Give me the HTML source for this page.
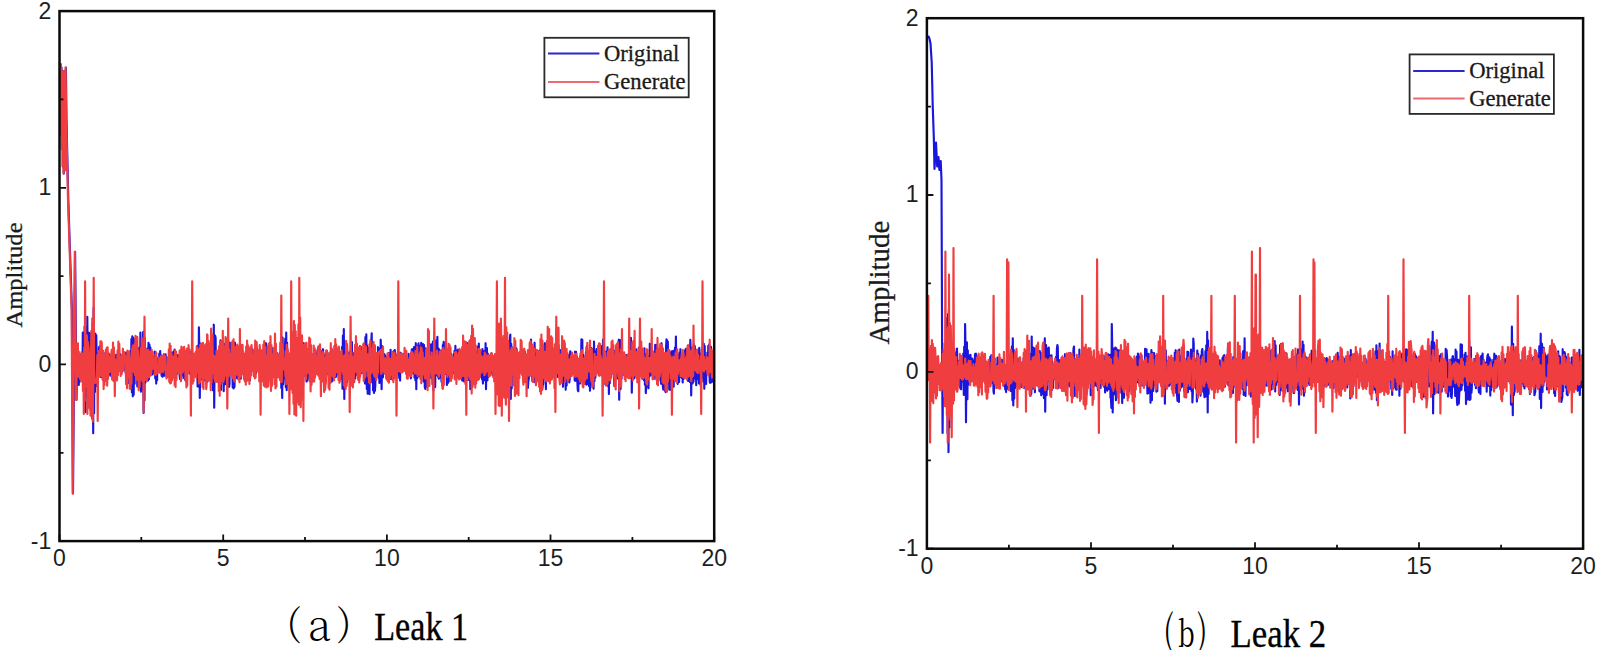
<!DOCTYPE html>
<html lang="en"><head><meta charset="utf-8"><title>Leak signals: Original vs Generate</title>
<style>html,body{margin:0;padding:0;background:#fff;}body{width:1600px;height:650px;overflow:hidden;}svg{display:block;}</style>
</head><body>
<svg width="1600" height="650" viewBox="0 0 1600 650">
<rect x="0" y="0" width="1600" height="650" fill="#ffffff"/>
<clipPath id="cl"><rect x="59.5" y="11.1" width="654.7" height="530.0"/></clipPath>
<g clip-path="url(#cl)" fill="none" stroke-linejoin="round" stroke-linecap="round">
<polyline points="60.6,64.1 61.0,134.8 61.5,67.6 62.0,148.9 62.4,71.2 62.9,166.6 63.3,78.2 63.8,173.6 64.2,71.2 64.7,161.3 65.1,81.8 65.6,170.1 65.9,67.6 66.5,120.0 68.3,200.0 71.9,310.0 73.0,493.4 75.1,251.8 76.5,400.0 77.4,352.9 77.9,383.3 78.3,353.4 78.8,385.0 79.2,358.0 79.7,381.8 80.1,359.1 80.6,370.3 81.0,359.0 81.5,370.1 81.9,373.9 82.4,381.1 82.8,332.5 83.3,382.9 83.7,333.9 84.2,390.3 84.6,326.5 85.1,334.1 85.5,412.1 86.0,346.5 86.4,326.9 86.9,396.5 87.3,316.7 87.8,381.3 88.2,337.8 88.7,395.7 89.1,332.7 89.6,398.4 90.0,337.4 90.5,409.8 90.9,333.7 91.4,398.0 91.8,331.6 92.3,418.8 92.7,322.5 93.2,433.3 93.6,307.9 94.1,413.3 94.5,335.1 95.0,391.9 95.4,333.6 95.9,386.4 96.3,335.2 96.8,372.9 97.2,356.1 97.7,372.0 98.1,353.4 98.6,370.3 99.0,347.1 99.5,372.0 99.9,346.1 100.4,376.8 100.8,346.7 101.3,377.2 101.7,355.0 102.2,358.4 102.6,358.2 103.1,374.6 103.5,358.0 104.0,371.3 104.4,358.0 104.9,370.8 105.3,352.9 105.8,377.6 106.2,350.1 106.7,378.2 107.1,352.0 107.6,376.8 108.0,355.4 108.5,373.0 108.9,353.9 109.4,374.0 109.8,355.6 110.3,375.7 110.7,356.5 111.2,371.7 111.6,369.0 112.1,352.1 112.5,352.5 113.0,368.6 113.4,360.2 113.9,371.8 114.3,373.0 114.8,375.0 115.2,356.9 115.7,375.2 116.1,354.9 116.6,369.0 117.0,357.8 117.5,367.8 117.9,358.9 118.4,367.9 118.8,368.3 119.3,368.4 119.7,354.3 120.2,354.2 120.6,370.9 121.1,372.7 121.5,360.6 122.0,371.7 122.4,359.5 122.9,368.3 123.3,360.1 123.8,369.7 124.2,369.2 124.7,369.8 125.1,354.8 125.6,372.6 126.0,352.6 126.5,379.0 126.9,356.4 127.4,380.6 127.8,357.4 128.3,382.9 128.7,358.0 129.2,357.6 129.6,355.0 130.1,373.9 130.5,350.5 131.0,379.8 131.4,339.1 131.9,392.5 132.3,336.4 132.8,396.3 133.2,337.5 133.7,394.7 134.1,339.4 134.6,383.8 135.0,339.5 135.5,373.9 135.9,349.2 136.4,379.3 136.8,343.6 137.3,386.4 137.7,383.2 138.2,348.5 138.6,353.0 139.1,379.9 139.5,347.5 140.0,387.5 140.4,332.6 140.9,391.7 141.3,340.2 141.8,379.7 142.2,340.0 142.7,390.3 143.1,332.2 143.6,413.0 144.0,331.5 144.5,400.4 144.9,338.3 145.4,382.5 145.8,349.3 146.3,373.2 146.7,374.5 147.2,379.3 147.6,348.3 148.1,380.6 148.5,342.8 149.0,379.1 149.4,344.6 149.9,372.2 150.3,347.3 150.8,372.8 151.2,357.5 151.7,374.4 152.1,359.4 152.6,374.5 153.0,356.9 153.5,371.7 153.9,370.9 154.4,373.0 154.8,351.5 155.3,378.5 155.7,356.4 156.2,383.6 156.6,357.4 157.1,380.2 157.5,358.8 158.0,369.9 158.4,359.2 158.9,370.7 159.3,353.5 159.8,370.6 160.2,351.1 160.7,372.3 161.1,355.4 161.6,375.8 162.0,356.8 162.5,376.8 162.9,371.0 163.4,370.7 163.8,354.3 164.3,375.8 164.7,356.0 165.2,375.4 165.6,354.4 166.1,375.6 166.5,357.2 167.0,369.2 167.4,367.4 167.9,368.5 168.3,361.7 168.8,372.9 169.2,356.7 169.7,375.5 170.1,352.3 170.6,374.7 171.0,353.9 171.5,353.8 171.9,352.5 172.4,367.1 172.8,367.5 173.3,367.7 173.7,351.4 174.2,367.0 174.6,349.5 175.1,374.3 175.5,353.6 176.0,374.2 176.4,354.4 176.9,374.0 177.3,355.0 177.8,367.7 178.2,360.1 178.7,368.1 179.1,355.5 179.6,375.0 180.0,379.2 180.5,378.5 180.9,352.8 181.4,379.0 181.8,356.8 182.3,370.4 182.7,360.6 183.2,373.1 183.6,375.3 184.1,378.0 184.5,355.4 185.0,379.8 185.4,352.8 185.9,381.1 186.3,353.8 186.8,376.7 187.2,360.4 187.7,369.2 188.1,360.4 188.6,360.4 189.0,358.3 189.5,373.6 189.9,354.1 190.4,353.1 190.8,351.8 191.3,371.0 191.7,357.2 192.2,368.6 192.6,368.5 193.1,369.7 193.5,360.6 194.0,368.7 194.4,358.8 194.9,357.7 195.3,356.9 195.8,375.5 196.2,354.6 196.7,372.6 197.1,348.7 197.6,386.4 198.0,345.7 198.5,386.6 198.9,327.3 199.4,356.8 199.8,398.0 200.3,354.9 200.7,343.6 201.2,377.9 201.6,352.8 202.1,379.8 202.5,357.9 203.0,381.0 203.4,358.8 203.9,379.0 204.3,378.5 204.8,380.4 205.2,356.5 205.7,372.5 206.1,373.3 206.6,379.8 207.0,354.2 207.5,381.8 207.9,357.4 208.4,357.6 208.8,360.3 209.3,379.4 209.7,360.7 210.2,370.7 210.6,358.6 211.1,371.3 211.5,354.3 212.0,381.9 212.4,345.9 212.9,390.3 213.3,380.6 213.8,324.7 214.2,407.7 214.7,347.6 215.1,335.6 215.6,337.7 216.0,380.4 216.5,353.5 216.9,351.0 217.4,370.6 217.8,352.7 218.3,370.6 218.7,351.2 219.2,380.0 219.6,347.8 220.1,384.4 220.5,340.4 221.0,389.9 221.4,341.4 221.9,374.3 222.3,345.0 222.8,381.9 223.2,354.3 223.7,391.2 224.1,343.7 224.6,384.3 225.0,346.5 225.5,384.2 225.9,354.2 226.4,377.9 226.8,384.5 227.3,384.1 227.7,348.2 228.2,383.4 228.6,342.1 229.1,386.9 229.5,384.1 230.0,342.9 230.4,351.8 230.9,372.8 231.3,354.3 231.8,352.9 232.2,355.8 232.7,387.5 233.1,353.6 233.6,388.4 234.0,349.2 234.5,386.9 234.9,342.5 235.4,378.0 235.8,374.3 236.3,371.7 236.7,349.6 237.2,378.5 237.6,351.4 238.1,377.8 238.5,351.2 239.0,373.4 239.4,378.6 239.9,378.4 240.3,355.0 240.8,378.8 241.2,349.2 241.7,347.3 242.1,349.8 242.6,372.6 243.0,355.5 243.5,374.0 243.9,355.7 244.4,375.9 244.8,380.2 245.3,379.4 245.7,356.7 246.2,378.0 246.6,351.6 247.1,353.4 247.5,373.8 248.0,355.3 248.4,354.4 248.9,380.2 249.3,356.8 249.8,380.5 250.2,353.1 250.7,374.5 251.1,351.6 251.6,369.0 252.0,351.7 252.5,349.4 252.9,354.1 253.4,369.6 253.8,357.8 254.3,372.8 254.7,359.9 255.2,357.7 255.6,352.9 256.1,373.1 256.5,350.5 257.0,370.1 257.4,351.5 257.9,369.3 258.3,356.2 258.8,371.4 259.2,361.0 259.7,372.0 260.1,354.6 260.6,372.6 261.0,351.2 261.5,369.7 261.9,353.0 262.4,368.0 262.8,372.5 263.3,374.5 263.7,358.5 264.2,357.7 264.6,373.6 265.1,377.1 265.5,381.4 266.0,343.2 266.4,373.6 266.9,376.9 267.3,351.1 267.8,358.1 268.2,383.9 268.7,356.4 269.1,351.6 269.6,374.3 270.0,355.6 270.5,370.9 270.9,369.8 271.4,350.3 271.8,347.7 272.3,370.2 272.7,372.8 273.2,373.9 273.6,351.3 274.1,372.2 274.5,358.6 275.0,369.2 275.4,354.2 275.9,368.6 276.3,367.8 276.8,367.5 277.2,353.2 277.7,368.4 278.1,358.1 278.6,374.9 279.0,360.0 279.5,374.7 279.9,352.7 280.4,376.9 280.8,342.9 281.3,387.9 281.7,336.8 282.2,398.0 282.6,337.5 283.1,384.4 283.5,377.9 284.0,377.2 284.4,352.1 284.9,347.7 285.3,338.6 285.8,387.2 286.2,332.6 286.7,390.2 287.1,342.8 287.6,376.7 288.0,354.0 288.5,370.8 288.9,358.5 289.4,368.4 289.8,355.8 290.3,367.4 290.7,355.3 291.2,368.2 291.6,359.2 292.1,372.2 292.5,360.7 293.0,374.8 293.4,358.0 293.9,373.4 294.3,354.7 294.8,354.2 295.2,353.3 295.7,355.8 296.1,355.2 296.6,371.7 297.0,359.3 297.5,383.5 297.9,359.6 298.4,380.4 298.8,350.8 299.3,381.0 299.7,344.9 300.2,345.4 300.6,346.3 301.1,375.0 301.5,353.4 302.0,380.9 302.4,346.3 302.9,389.2 303.3,372.4 303.8,343.2 304.2,371.3 304.7,375.6 305.1,355.8 305.6,375.5 306.0,359.0 306.5,381.6 306.9,354.5 307.4,380.6 307.8,349.2 308.3,378.4 308.7,351.4 309.2,374.9 309.6,351.1 310.1,358.1 310.5,359.3 311.0,380.0 311.4,380.9 311.9,360.4 312.3,359.6 312.8,357.8 313.2,372.5 313.7,374.7 314.1,352.0 314.6,371.0 315.0,352.8 315.5,373.8 315.9,359.0 316.4,371.4 316.8,353.6 317.3,352.5 317.7,349.6 318.2,347.8 318.6,351.4 319.1,368.5 319.5,359.1 320.0,373.9 320.4,360.1 320.9,372.2 321.3,357.8 321.8,373.2 322.2,350.7 322.7,376.5 323.1,349.2 323.6,376.6 324.0,375.0 324.5,372.0 324.9,355.2 325.4,375.2 325.8,353.9 326.3,376.1 326.7,350.6 327.2,373.9 327.6,353.0 328.1,369.9 328.5,358.2 329.0,370.7 329.4,357.1 329.9,371.0 330.3,354.4 330.8,374.1 331.2,348.3 331.7,381.7 332.1,350.2 332.6,380.5 333.0,358.7 333.5,377.2 333.9,356.5 334.4,370.9 334.8,345.9 335.3,377.0 335.7,377.0 336.2,376.4 336.6,350.6 337.1,355.9 337.5,356.1 338.0,374.4 338.4,352.7 338.9,374.2 339.3,355.4 339.8,374.0 340.2,357.7 340.7,370.8 341.1,355.7 341.6,379.0 342.0,347.2 342.5,388.7 342.9,335.6 343.4,388.4 343.8,329.1 344.3,398.9 344.7,342.1 345.2,384.1 345.6,347.8 346.1,380.8 346.5,381.2 347.0,382.4 347.4,352.6 347.9,378.5 348.3,352.7 348.8,370.1 349.2,353.5 349.7,372.5 350.1,351.5 350.6,381.9 351.0,383.0 351.5,381.4 351.9,342.1 352.4,379.5 352.8,352.8 353.3,377.8 353.7,359.7 354.2,382.0 354.6,358.9 355.1,378.4 355.5,356.3 356.0,375.1 356.4,353.9 356.9,371.1 357.3,355.7 357.8,374.5 358.2,356.2 358.7,379.6 359.1,348.5 359.6,375.0 360.0,346.0 360.5,373.7 360.9,346.7 361.4,371.5 361.8,356.3 362.3,372.6 362.7,358.3 363.2,372.5 363.6,357.4 364.1,380.5 364.5,346.4 365.0,383.6 365.4,337.1 365.9,377.4 366.3,334.3 366.8,389.1 367.2,345.5 367.7,393.7 368.1,347.7 368.6,391.0 369.0,350.5 369.5,394.2 369.9,353.1 370.4,376.2 370.8,341.9 371.3,342.0 371.7,333.3 372.2,382.4 372.6,343.2 373.1,390.4 373.5,355.9 374.0,393.0 374.4,354.0 374.9,391.0 375.3,385.4 375.8,355.7 376.2,356.8 376.7,372.0 377.1,372.4 377.6,372.0 378.0,347.2 378.5,377.7 378.9,348.2 379.4,383.0 379.8,350.4 380.3,379.4 380.7,339.7 381.2,355.1 381.6,389.2 382.1,354.0 382.5,346.4 383.0,377.3 383.4,354.6 383.9,371.9 384.3,354.0 384.8,373.3 385.2,355.3 385.7,356.7 386.1,359.3 386.6,377.8 387.0,360.7 387.5,375.5 387.9,359.8 388.4,373.5 388.8,353.1 389.3,379.3 389.7,378.5 390.2,377.7 390.6,349.8 391.1,378.9 391.5,375.4 392.0,374.9 392.4,358.5 392.9,369.6 393.3,351.5 393.8,371.6 394.2,351.3 394.7,350.0 395.1,353.4 395.6,354.4 396.0,357.8 396.5,370.0 396.9,358.9 397.4,371.0 397.8,370.2 398.3,374.1 398.7,359.1 399.2,378.0 399.6,353.1 400.1,380.6 400.5,352.7 401.0,368.5 401.4,368.5 401.9,368.2 402.3,358.8 402.8,368.6 403.2,354.0 403.7,368.7 404.1,356.0 404.6,369.6 405.0,360.1 405.5,360.6 405.9,370.7 406.4,368.7 406.8,359.2 407.3,368.7 407.7,367.5 408.2,368.0 408.6,353.8 409.1,368.4 409.5,358.1 410.0,373.9 410.4,375.4 410.9,378.3 411.3,355.7 411.8,349.6 412.2,349.1 412.7,373.2 413.1,351.5 413.6,370.4 414.0,347.1 414.5,377.6 414.9,352.4 415.4,380.3 415.8,343.2 416.3,389.2 416.7,348.8 417.2,378.3 417.6,345.7 418.1,375.1 418.5,343.4 419.0,376.5 419.4,375.1 419.9,349.9 420.3,345.7 420.8,374.3 421.2,342.8 421.7,369.6 422.1,370.8 422.6,371.0 423.0,344.1 423.5,381.5 423.9,344.9 424.4,353.2 424.8,387.2 425.3,388.9 425.7,348.4 426.2,387.0 426.6,349.8 427.1,379.1 427.5,358.0 428.0,371.8 428.4,358.4 428.9,372.2 429.3,357.8 429.8,375.3 430.2,347.7 430.7,377.7 431.1,344.3 431.6,373.1 432.0,345.0 432.5,384.3 432.9,341.6 433.4,390.5 433.8,340.9 434.3,386.6 434.7,341.1 435.2,387.1 435.6,342.1 436.1,374.8 436.5,340.1 437.0,373.4 437.4,336.9 437.9,376.7 438.3,348.3 438.8,378.8 439.2,349.4 439.7,377.4 440.1,350.5 440.6,371.9 441.0,355.9 441.5,381.8 441.9,356.0 442.4,385.1 442.8,345.1 443.3,346.2 443.7,341.9 444.2,343.9 444.6,345.5 445.1,370.7 445.5,369.8 446.0,373.9 446.4,356.8 446.9,385.0 447.3,352.5 447.8,383.3 448.2,353.8 448.7,381.7 449.1,358.3 449.6,372.5 450.0,370.5 450.5,370.5 450.9,353.7 451.4,369.5 451.8,359.7 452.3,372.7 452.7,359.3 453.2,373.3 453.6,354.1 454.1,372.8 454.5,350.9 455.0,369.9 455.4,345.9 455.9,371.7 456.3,350.3 456.8,377.0 457.2,357.4 457.7,377.4 458.1,349.7 458.6,373.6 459.0,352.0 459.5,373.2 459.9,351.7 460.4,376.0 460.8,359.8 461.3,378.7 461.7,357.8 462.2,380.6 462.6,350.8 463.1,377.5 463.5,352.8 464.0,381.4 464.4,350.9 464.9,380.3 465.3,354.7 465.8,372.7 466.2,348.7 466.7,367.9 467.1,343.0 467.6,372.9 468.0,351.9 468.5,379.9 468.9,348.9 469.4,373.0 469.8,340.6 470.3,389.2 470.7,345.2 471.2,348.4 471.6,350.7 472.1,376.6 472.5,355.9 473.0,354.2 473.4,371.7 473.9,354.5 474.3,354.6 474.8,382.0 475.2,359.3 475.7,383.6 476.1,358.0 476.6,378.4 477.0,351.0 477.5,376.3 477.9,346.5 478.4,370.4 478.8,343.6 479.3,376.3 479.7,377.3 480.2,375.2 480.6,354.8 481.1,374.2 481.5,351.7 482.0,379.3 482.4,349.1 482.9,383.6 483.3,356.7 483.8,380.4 484.2,351.1 484.7,377.6 485.1,372.4 485.6,343.2 486.0,389.2 486.5,354.0 486.9,348.1 487.4,380.4 487.8,353.6 488.3,376.9 488.7,359.5 489.2,370.9 489.6,357.5 490.1,367.9 490.5,356.9 491.0,368.6 491.4,357.8 491.9,373.1 492.3,359.5 492.8,375.4 493.2,361.0 493.7,359.9 494.1,359.2 494.6,374.3 495.0,354.7 495.5,374.4 495.9,374.1 496.4,374.0 496.8,355.5 497.3,372.1 497.7,356.8 498.2,369.2 498.6,358.5 499.1,369.8 499.5,354.0 500.0,373.3 500.4,346.3 500.9,382.0 501.3,347.7 501.8,384.3 502.2,347.4 502.7,382.5 503.1,377.5 503.6,374.7 504.0,358.2 504.5,371.6 504.9,357.6 505.4,357.8 505.8,356.5 506.3,373.8 506.7,346.2 507.2,348.1 507.6,348.4 508.1,375.9 508.5,350.1 509.0,380.1 509.4,373.2 509.9,337.1 510.3,334.6 510.8,398.9 511.2,343.7 511.7,388.4 512.1,347.2 512.6,352.6 513.0,355.2 513.5,371.0 513.9,359.0 514.4,372.6 514.8,353.9 515.3,372.8 515.7,347.9 516.2,372.2 516.6,348.9 517.1,372.1 517.5,354.8 518.0,376.4 518.4,358.6 518.9,376.2 519.3,354.9 519.8,370.2 520.2,356.1 520.7,369.5 521.1,354.9 521.6,371.6 522.0,357.5 522.5,374.5 522.9,357.3 523.4,378.3 523.8,352.5 524.3,372.3 524.7,351.3 525.2,371.2 525.6,378.3 526.1,378.3 526.5,358.6 527.0,383.4 527.4,357.0 527.9,388.0 528.3,381.2 528.8,379.0 529.2,356.1 529.7,373.5 530.1,342.5 530.6,373.9 531.0,339.5 531.5,376.3 531.9,349.7 532.4,381.3 532.8,352.4 533.3,379.9 533.7,349.3 534.2,382.0 534.6,342.7 535.1,378.6 535.5,353.4 536.0,378.6 536.4,358.2 536.9,378.3 537.3,359.3 537.8,370.1 538.2,351.4 538.7,370.1 539.1,351.0 539.6,377.8 540.0,350.2 540.5,387.8 540.9,350.7 541.4,390.2 541.8,358.3 542.3,389.2 542.7,385.2 543.2,384.0 543.6,348.4 544.1,376.7 544.5,371.9 545.0,343.2 545.4,360.6 545.9,389.2 546.3,346.3 546.8,379.6 547.2,352.1 547.7,375.3 548.1,352.5 548.6,373.3 549.0,353.7 549.5,376.0 549.9,358.3 550.4,358.0 550.8,359.1 551.3,371.9 551.7,359.1 552.2,373.1 552.6,358.8 553.1,374.0 553.5,355.2 554.0,353.8 554.4,353.1 554.9,369.9 555.3,354.9 555.8,369.5 556.2,369.7 556.7,369.6 557.1,349.9 557.6,376.9 558.0,345.4 558.5,345.2 558.9,351.6 559.4,351.1 559.8,350.0 560.3,370.8 560.7,350.4 561.2,378.8 561.6,379.1 562.1,382.0 562.5,356.4 563.0,386.8 563.4,349.3 563.9,380.8 564.3,343.3 564.8,381.2 565.2,349.9 565.7,389.8 566.1,358.3 566.6,385.6 567.0,357.3 567.5,377.4 567.9,356.5 568.4,378.9 568.8,355.2 569.3,382.5 569.7,379.0 570.2,351.4 570.6,352.9 571.1,372.9 571.5,355.3 572.0,371.0 572.4,357.9 572.9,369.4 573.3,358.9 573.8,373.7 574.2,357.3 574.7,380.6 575.1,351.7 575.6,380.8 576.0,351.9 576.5,379.1 576.9,356.8 577.4,382.8 577.8,390.3 578.3,391.2 578.7,359.7 579.2,358.8 579.6,358.7 580.1,383.4 580.5,355.4 581.0,376.9 581.4,339.4 581.9,380.8 582.3,339.7 582.8,382.4 583.2,354.8 583.7,383.5 584.1,357.2 584.6,376.0 585.0,383.7 585.5,382.7 585.9,352.2 586.4,384.7 586.8,346.2 587.3,358.3 587.7,383.9 588.2,356.1 588.6,350.9 589.1,386.2 589.5,353.4 590.0,390.8 590.4,348.6 590.9,385.7 591.3,348.1 591.8,372.2 592.2,350.8 592.7,381.1 593.1,349.1 593.6,388.7 594.0,341.5 594.5,381.3 594.9,352.4 595.4,377.6 595.8,351.4 596.3,352.7 596.7,349.0 597.2,372.1 597.6,348.9 598.1,370.9 598.5,353.5 599.0,373.9 599.4,359.9 599.9,375.2 600.3,352.9 600.8,371.9 601.2,369.5 601.7,369.5 602.1,345.9 602.6,369.0 603.0,339.7 603.5,372.3 603.9,342.4 604.4,380.4 604.8,352.7 605.3,384.2 605.7,352.0 606.2,380.7 606.6,351.1 607.1,379.2 607.5,347.3 608.0,385.9 608.4,355.4 608.9,394.1 609.3,357.9 609.8,383.3 610.2,351.0 610.7,370.8 611.1,351.4 611.6,370.7 612.0,351.6 612.5,370.5 612.9,357.9 613.4,374.1 613.8,356.7 614.3,386.0 614.7,350.8 615.2,381.9 615.6,350.4 616.1,373.0 616.5,350.5 617.0,355.7 617.4,377.2 617.9,378.7 618.3,374.8 618.8,339.7 619.2,399.8 619.7,343.0 620.1,340.1 620.6,388.9 621.0,349.3 621.5,378.5 621.9,349.8 622.4,373.0 622.8,357.1 623.3,373.7 623.7,360.0 624.2,375.1 624.6,359.8 625.1,376.5 625.5,358.5 626.0,368.6 626.4,355.0 626.9,371.9 627.3,356.3 627.8,373.8 628.2,358.2 628.7,373.0 629.1,353.0 629.6,377.7 630.0,345.0 630.5,375.7 630.9,337.9 631.4,354.0 631.8,392.7 632.3,354.4 632.7,347.6 633.2,378.8 633.6,354.3 634.1,378.4 634.5,351.0 635.0,373.2 635.4,350.1 635.9,376.3 636.3,349.4 636.8,376.7 637.2,357.1 637.7,372.0 638.1,358.4 638.6,370.7 639.0,347.6 639.5,370.3 639.9,370.7 640.4,373.3 640.8,346.1 641.3,375.6 641.7,348.9 642.2,378.7 642.6,374.3 643.1,373.4 643.5,351.2 644.0,380.2 644.4,348.3 644.9,384.8 645.3,353.8 645.8,393.1 646.2,387.0 646.7,385.2 647.1,356.4 647.6,383.9 648.0,357.2 648.5,388.3 648.9,355.9 649.4,376.5 649.8,343.7 650.3,375.5 650.7,344.8 651.2,374.6 651.6,374.8 652.1,371.4 652.5,358.2 653.0,375.1 653.4,356.5 653.9,378.8 654.3,378.3 654.8,375.7 655.2,344.8 655.7,370.7 656.1,345.0 656.6,378.7 657.0,344.8 657.5,376.0 657.9,353.7 658.4,376.4 658.8,357.8 659.3,376.8 659.7,353.0 660.2,379.0 660.6,347.3 661.1,383.8 661.5,343.2 662.0,384.0 662.4,348.7 662.9,386.9 663.3,389.5 663.8,387.0 664.2,356.4 664.7,390.4 665.1,356.9 665.6,392.1 666.0,348.4 666.5,339.3 666.9,340.4 667.4,380.6 667.8,341.6 668.3,381.7 668.7,356.5 669.2,389.5 669.6,356.2 670.1,389.9 670.5,353.1 671.0,377.0 671.4,351.3 671.9,378.4 672.3,353.4 672.8,381.6 673.2,350.8 673.7,386.7 674.1,357.7 674.6,374.4 675.0,347.7 675.5,372.1 675.9,336.6 676.4,374.5 676.8,350.3 677.3,357.9 677.7,383.9 678.2,355.6 678.6,377.7 679.1,381.9 679.5,352.6 680.0,377.1 680.4,349.2 680.9,374.8 681.3,355.4 681.8,378.0 682.2,357.9 682.7,382.5 683.1,357.5 683.6,379.0 684.0,355.6 684.5,376.3 684.9,350.5 685.4,350.7 685.8,348.8 686.3,376.0 686.7,351.5 687.2,376.9 687.6,355.0 688.1,381.0 688.5,357.3 689.0,375.9 689.4,350.4 689.9,382.0 690.3,339.9 690.8,352.3 691.2,395.4 691.7,353.7 692.1,347.8 692.6,383.4 693.0,347.8 693.5,381.8 693.9,344.3 694.4,378.5 694.8,346.1 695.3,376.7 695.7,350.3 696.2,385.2 696.6,357.4 697.1,379.0 697.5,354.5 698.0,373.8 698.4,349.7 698.9,383.4 699.3,347.8 699.8,383.4 700.2,353.2 700.7,385.6 701.1,378.2 701.6,377.3 702.0,349.1 702.5,370.8 702.9,346.4 703.4,381.6 703.8,343.7 704.3,388.8 704.7,346.0 705.2,382.7 705.6,358.7 706.1,384.0 706.5,358.3 707.0,370.7 707.4,352.6 707.9,373.2 708.3,345.8 708.8,374.8 709.2,344.7 709.7,381.8 710.1,382.8 710.6,382.5 711.0,346.8 711.5,353.2 711.9,382.1 712.4,358.6 712.8,351.9 713.3,380.5 713.7,356.6" stroke="#1B16DE" stroke-width="2.15"/>
<polyline points="60.3,64.1 60.8,134.8 61.2,67.6 61.7,148.9 62.1,71.2 62.6,166.6 63.0,78.2 63.5,173.6 63.9,71.2 64.4,161.3 64.8,81.8 65.3,170.1 65.6,67.6 66.2,120.0 68.0,200.0 71.6,310.0 72.7,493.4 74.8,251.8 76.2,400.0 77.0,344.2 77.5,344.7 77.9,343.3 78.4,376.7 78.8,351.5 79.3,374.7 79.7,375.0 80.2,379.0 80.6,353.9 81.1,381.3 81.5,352.0 82.0,379.7 82.4,353.7 82.9,391.0 83.3,354.5 83.8,413.9 84.2,347.8 84.7,401.0 85.1,281.4 85.6,386.8 86.0,337.2 86.5,382.3 86.9,335.4 87.4,413.9 87.8,341.8 88.3,346.3 88.7,347.7 89.2,407.8 89.6,390.4 90.1,352.9 90.5,415.7 91.0,354.9 91.4,330.8 91.9,410.1 92.3,318.2 92.8,421.6 93.2,383.4 93.7,277.9 94.1,371.5 94.6,383.1 95.0,381.3 95.5,382.8 95.9,378.7 96.4,380.0 96.8,377.7 97.3,355.0 97.7,421.0 98.2,356.6 98.6,351.2 99.1,376.7 99.5,353.3 100.0,375.5 100.4,341.3 100.9,375.8 101.3,341.4 101.8,343.1 102.2,376.0 102.7,379.9 103.1,350.9 103.6,389.1 104.0,354.6 104.5,385.0 104.9,354.3 105.4,379.1 105.8,350.0 106.3,380.9 106.7,347.9 107.2,385.7 107.6,347.4 108.1,378.9 108.5,353.3 109.0,371.2 109.4,356.8 109.9,371.9 110.3,358.2 110.8,370.3 111.2,354.5 111.7,349.8 112.1,379.6 112.6,376.4 113.0,342.6 113.5,381.0 113.9,347.3 114.4,359.6 114.8,396.2 115.3,361.4 115.7,359.9 116.2,372.0 116.6,359.7 117.1,380.4 117.5,350.4 118.0,375.1 118.4,341.6 118.9,368.0 119.3,343.7 119.8,370.9 120.2,357.1 120.7,375.9 121.1,360.4 121.6,374.5 122.0,354.8 122.5,371.4 122.9,348.7 123.4,370.5 123.8,352.9 124.3,352.2 124.7,355.0 125.2,357.8 125.6,356.5 126.1,384.3 126.5,357.6 127.0,388.3 127.4,350.6 127.9,376.1 128.3,351.3 128.8,377.7 129.2,352.6 129.7,388.8 130.1,359.8 130.6,389.0 131.0,357.5 131.5,383.6 131.9,349.0 132.4,369.8 132.8,345.6 133.3,371.4 133.7,349.6 134.2,372.5 134.6,344.1 135.1,375.2 135.5,335.8 136.0,380.2 136.4,336.6 136.9,379.7 137.3,337.0 137.8,374.6 138.2,350.9 138.7,390.3 139.1,357.4 139.6,386.9 140.0,358.5 140.5,379.4 140.9,348.1 141.4,372.5 141.8,337.9 142.3,381.1 142.7,341.5 143.2,356.0 143.6,412.1 144.1,354.0 144.5,316.7 145.0,379.7 145.4,352.0 145.9,349.4 146.3,351.5 146.8,381.3 147.2,353.2 147.7,351.5 148.1,349.8 148.6,374.5 149.0,377.3 149.5,374.6 149.9,351.6 150.4,374.8 150.8,375.4 151.3,372.3 151.7,349.8 152.2,368.6 152.6,351.9 153.1,368.7 153.5,358.5 154.0,360.8 154.4,358.7 154.9,374.2 155.3,354.9 155.8,375.0 156.2,352.4 156.7,371.9 157.1,373.5 157.6,370.9 158.0,368.7 158.5,370.7 158.9,358.0 159.4,372.4 159.8,359.7 160.3,373.1 160.7,356.2 161.2,371.0 161.6,356.4 162.1,371.6 162.5,356.9 163.0,371.9 163.4,355.5 163.9,369.2 164.3,355.1 164.8,369.5 165.2,356.9 165.7,372.9 166.1,374.8 166.6,378.5 167.0,376.6 167.5,376.6 167.9,357.4 168.4,376.6 168.8,349.4 169.3,381.9 169.7,343.5 170.2,383.4 170.6,345.7 171.1,382.9 171.5,353.2 172.0,380.3 172.4,357.1 172.9,376.6 173.3,356.5 173.8,377.6 174.2,356.0 174.7,385.4 175.1,350.4 175.6,387.1 176.0,351.6 176.5,379.7 176.9,359.5 177.4,371.0 177.8,358.9 178.3,370.9 178.7,356.9 179.2,373.5 179.6,350.7 180.1,350.3 180.5,351.5 181.0,381.3 181.4,346.6 181.9,347.9 182.3,350.2 182.8,372.5 183.2,354.4 183.7,370.2 184.1,346.8 184.6,370.3 185.0,350.8 185.5,380.3 185.9,351.6 186.4,387.5 186.8,348.6 187.3,385.7 187.7,349.8 188.2,372.1 188.6,345.2 189.1,368.9 189.5,349.4 190.0,369.3 190.4,357.1 190.9,415.7 191.3,355.1 191.8,384.1 192.2,281.4 192.7,383.4 193.1,354.3 193.6,381.3 194.0,353.6 194.5,375.5 194.9,358.3 195.4,376.4 195.8,351.9 196.3,377.7 196.7,346.2 197.2,371.6 197.6,348.7 198.1,372.0 198.5,356.7 199.0,383.4 199.4,348.3 199.9,382.6 200.3,344.8 200.8,377.2 201.2,343.8 201.7,370.3 202.1,348.4 202.6,387.2 203.0,342.9 203.5,389.0 203.9,345.3 204.4,373.7 204.8,371.8 205.3,377.8 205.7,344.4 206.2,389.1 206.6,384.9 207.1,334.4 207.5,335.0 208.0,380.5 208.4,340.9 208.9,349.9 209.3,373.3 209.8,380.4 210.2,343.2 210.7,390.2 211.1,328.6 211.6,382.6 212.0,335.8 212.5,335.0 212.9,373.5 213.4,372.8 213.8,355.6 214.3,378.7 214.7,356.3 215.2,381.5 215.6,381.1 216.1,380.6 216.5,350.8 217.0,382.0 217.4,380.9 217.9,350.7 218.3,353.5 218.8,390.9 219.2,346.0 219.7,395.8 220.1,343.1 220.6,383.9 221.0,341.4 221.5,342.3 221.9,348.0 222.4,381.3 222.8,330.9 223.3,381.9 223.7,346.6 224.2,379.5 224.6,348.4 225.1,374.0 225.5,337.0 226.0,375.7 226.4,338.3 226.9,359.0 227.3,408.6 227.8,358.5 228.2,318.5 228.7,376.5 229.1,349.9 229.6,372.9 230.0,354.2 230.5,373.9 230.9,353.8 231.4,373.1 231.8,342.3 232.3,377.3 232.7,340.8 233.2,378.4 233.6,339.2 234.1,379.8 234.5,381.5 235.0,379.5 235.4,346.9 235.9,372.2 236.3,348.2 236.8,374.5 237.2,344.6 237.7,375.0 238.1,346.0 238.6,379.7 239.0,349.8 239.5,382.3 239.9,329.1 240.4,376.8 240.8,348.6 241.3,376.0 241.7,345.1 242.2,373.8 242.6,344.9 243.1,373.3 243.5,352.0 244.0,379.2 244.4,353.9 244.9,381.4 245.3,356.4 245.8,384.7 246.2,346.5 246.7,381.2 247.1,340.5 247.6,376.9 248.0,345.4 248.5,379.9 248.9,356.0 249.4,383.9 249.8,348.0 250.3,378.1 250.7,346.6 251.2,375.2 251.6,345.1 252.1,370.3 252.5,354.4 253.0,370.9 253.4,359.2 253.9,376.1 254.3,351.8 254.8,378.5 255.2,340.6 255.7,377.5 256.1,345.3 256.6,342.1 257.0,349.4 257.5,370.3 257.9,359.2 258.4,371.7 258.8,350.2 259.3,381.5 259.7,345.0 260.2,355.3 260.6,414.8 261.1,350.1 261.5,357.4 262.0,357.7 262.4,352.1 262.9,381.4 263.3,344.5 263.8,385.6 264.2,341.0 264.7,386.6 265.1,346.9 265.6,381.0 266.0,356.6 266.5,387.5 266.9,355.6 267.4,384.8 267.8,346.0 268.3,386.4 268.7,343.9 269.2,377.9 269.6,342.9 270.1,379.9 270.5,336.2 271.0,391.0 271.4,345.1 271.9,386.0 272.3,354.4 272.8,356.7 273.2,357.1 273.7,377.3 274.1,347.7 274.6,384.2 275.0,333.5 275.5,388.5 275.9,343.5 276.4,386.8 276.8,353.1 277.3,377.0 277.7,357.0 278.2,354.8 278.6,372.5 279.1,377.7 279.5,355.8 280.0,380.1 280.4,342.3 280.9,382.1 281.3,295.5 281.8,381.9 282.2,344.4 282.7,347.1 283.1,351.5 283.6,369.2 284.0,358.8 284.5,370.0 284.9,360.5 285.4,376.5 285.8,351.2 286.3,384.2 286.7,344.7 287.2,382.9 287.6,349.1 288.1,352.4 288.5,357.9 289.0,359.1 289.4,413.9 289.9,359.0 290.3,353.0 290.8,375.8 291.2,281.4 291.7,389.5 292.1,339.0 292.6,392.9 293.0,332.2 293.5,403.8 293.9,321.0 294.4,414.4 294.8,324.8 295.3,407.5 295.7,331.3 296.2,415.7 296.6,337.8 297.1,393.8 297.5,394.3 298.0,402.4 298.4,324.4 298.9,404.7 299.3,277.9 299.8,383.6 300.2,317.6 300.7,407.3 301.1,397.6 301.6,395.5 302.0,335.4 302.5,388.4 302.9,345.0 303.4,421.0 303.8,344.8 304.3,372.8 304.7,374.4 305.2,343.7 305.6,345.9 306.1,379.0 306.5,342.7 307.0,373.1 307.4,349.0 307.9,372.6 308.3,351.6 308.8,372.7 309.2,337.5 309.7,381.4 310.1,338.7 310.6,391.4 311.0,345.1 311.5,385.1 311.9,356.0 312.4,381.9 312.8,353.9 313.3,379.2 313.7,345.6 314.2,381.5 314.6,348.0 315.1,377.6 315.5,350.3 316.0,374.3 316.4,355.8 316.9,372.6 317.3,357.5 317.8,374.7 318.2,346.5 318.7,375.9 319.1,345.9 319.6,379.0 320.0,344.3 320.5,359.0 320.9,396.2 321.4,357.0 321.8,355.7 322.3,381.4 322.7,351.7 323.2,379.0 323.6,352.9 324.1,392.0 324.5,357.5 325.0,390.2 325.4,385.7 325.9,382.1 326.3,350.6 326.8,371.4 327.2,352.3 327.7,372.2 328.1,354.8 328.6,387.9 329.0,355.2 329.5,389.8 329.9,352.3 330.4,383.1 330.8,343.2 331.3,373.8 331.7,348.6 332.2,375.5 332.6,353.8 333.1,376.7 333.5,351.9 334.0,380.5 334.4,346.0 334.9,376.3 335.3,339.0 335.8,371.8 336.2,344.4 336.7,372.2 337.1,348.4 337.6,371.3 338.0,351.2 338.5,380.0 338.9,346.5 339.4,382.8 339.8,351.9 340.3,380.9 340.7,352.4 341.2,370.9 341.6,350.4 342.1,369.7 342.5,356.3 343.0,373.7 343.4,358.3 343.9,385.0 344.3,355.4 344.8,387.0 345.2,386.5 345.7,389.0 346.1,340.9 346.6,385.9 347.0,343.7 347.5,351.7 347.9,355.5 348.4,379.2 348.8,356.0 349.3,358.7 349.7,412.1 350.2,359.8 350.6,316.7 351.1,374.8 351.5,352.8 352.0,385.8 352.4,357.8 352.9,387.5 353.3,356.8 353.8,382.4 354.2,356.6 354.7,372.0 355.1,344.9 355.6,371.7 356.0,336.2 356.5,369.7 356.9,343.5 357.4,375.2 357.8,378.1 358.3,379.9 358.7,347.5 359.2,382.5 359.6,377.6 360.1,375.8 360.5,346.5 361.0,370.9 361.4,354.7 361.9,371.7 362.3,351.2 362.8,370.5 363.2,344.0 363.7,381.0 364.1,343.2 364.6,378.3 365.0,355.7 365.5,376.1 365.9,346.6 366.4,370.1 366.8,370.2 367.3,371.1 367.7,354.4 368.2,376.7 368.6,358.3 369.1,382.6 369.5,344.2 370.0,383.6 370.4,340.2 370.9,373.5 371.3,351.7 371.8,372.6 372.2,348.8 372.7,370.8 373.1,344.6 373.6,342.1 374.0,374.5 374.5,376.6 374.9,345.4 375.4,375.6 375.8,356.6 376.3,380.0 376.7,353.0 377.2,375.2 377.6,370.2 378.1,372.4 378.5,352.1 379.0,351.9 379.4,351.8 379.9,353.1 380.3,350.3 380.8,350.1 381.2,374.0 381.7,372.1 382.1,349.4 382.6,371.3 383.0,347.0 383.5,369.6 383.9,358.0 384.4,373.5 384.8,359.6 385.3,358.3 385.7,358.7 386.2,378.6 386.6,375.0 387.1,379.8 387.5,353.4 388.0,381.5 388.4,353.3 388.9,382.7 389.3,358.9 389.8,378.3 390.2,358.9 390.7,374.7 391.1,359.1 391.6,373.6 392.0,356.9 392.5,379.9 392.9,353.1 393.4,382.2 393.8,352.2 394.3,378.6 394.7,353.1 395.2,372.3 395.6,356.7 396.1,358.7 396.5,415.7 397.0,358.6 397.4,353.4 397.9,371.1 398.3,281.4 398.8,371.5 399.2,352.7 399.7,370.9 400.1,356.9 400.6,371.8 401.0,356.3 401.5,353.4 401.9,357.3 402.4,372.5 402.8,358.2 403.3,370.2 403.7,354.8 404.2,370.8 404.6,347.8 405.1,370.6 405.5,350.2 406.0,373.8 406.4,351.1 406.9,378.4 407.3,357.8 407.8,378.8 408.2,359.6 408.7,374.8 409.1,359.5 409.6,372.2 410.0,356.7 410.5,376.2 410.9,353.2 411.4,376.3 411.8,351.7 412.3,373.0 412.7,353.0 413.2,355.9 413.6,358.5 414.1,369.8 414.5,370.8 415.0,373.5 415.4,351.0 415.9,373.3 416.3,373.4 416.8,371.6 417.2,346.7 417.7,375.9 418.1,354.5 418.6,373.9 419.0,358.8 419.5,373.0 419.9,352.3 420.4,379.1 420.8,347.2 421.3,383.3 421.7,348.2 422.2,375.7 422.6,352.4 423.1,371.5 423.5,357.5 424.0,374.3 424.4,358.0 424.9,378.3 425.3,376.3 425.8,378.4 426.2,349.4 426.7,350.6 427.1,351.9 427.6,390.2 428.0,329.1 428.5,384.2 428.9,330.9 429.4,386.0 429.8,357.4 430.3,371.2 430.7,356.5 431.2,372.7 431.6,352.5 432.1,375.9 432.5,378.9 433.0,357.5 433.4,408.6 433.9,356.4 434.3,318.5 434.8,373.4 435.2,356.3 435.7,372.9 436.1,373.5 436.6,373.2 437.0,350.5 437.5,373.8 437.9,355.4 438.4,374.2 438.8,376.7 439.3,374.7 439.7,351.8 440.2,373.0 440.6,352.5 441.1,371.4 441.5,350.2 442.0,379.5 442.4,388.1 442.9,388.8 443.3,348.0 443.8,385.3 444.2,350.2 444.7,371.2 445.1,350.6 445.6,372.9 446.0,329.1 446.5,371.8 446.9,357.6 447.4,377.0 447.8,348.9 448.3,374.7 448.7,343.8 449.2,374.0 449.6,345.0 450.1,377.1 450.5,347.4 451.0,381.0 451.4,355.2 451.9,378.2 452.3,359.6 452.8,358.6 453.2,358.8 453.7,370.5 454.1,357.3 454.6,379.3 455.0,352.5 455.5,354.5 455.9,351.7 456.4,383.9 456.8,355.1 457.3,377.5 457.7,354.9 458.2,373.1 458.6,352.8 459.1,379.5 459.5,348.9 460.0,376.9 460.4,350.1 460.9,378.0 461.3,354.9 461.8,376.4 462.2,347.0 462.7,375.0 463.1,335.5 463.6,375.8 464.0,341.1 464.5,376.4 464.9,349.2 465.4,384.1 465.8,341.7 466.3,414.8 466.7,344.2 467.2,380.3 467.6,377.2 468.1,374.3 468.5,345.7 469.0,372.4 469.4,341.3 469.9,373.9 470.3,379.3 470.8,344.1 471.2,335.8 471.7,393.6 472.1,325.5 472.6,386.9 473.0,328.9 473.5,378.0 473.9,340.2 474.4,384.3 474.8,338.1 475.3,387.7 475.7,345.4 476.2,383.5 476.6,355.8 477.1,356.0 477.5,354.3 478.0,380.1 478.4,348.9 478.9,379.3 479.3,349.1 479.8,377.3 480.2,349.9 480.7,372.4 481.1,355.7 481.6,372.6 482.0,357.0 482.5,370.6 482.9,358.5 483.4,371.1 483.8,356.2 484.3,375.2 484.7,352.6 485.2,374.5 485.6,354.0 486.1,372.2 486.5,356.0 487.0,368.6 487.4,355.7 487.9,371.0 488.3,356.1 488.8,376.3 489.2,355.4 489.7,376.2 490.1,358.4 490.6,375.3 491.0,353.4 491.5,370.5 491.9,353.2 492.4,370.8 492.8,355.7 493.3,377.1 493.7,358.0 494.2,381.4 494.6,356.2 495.1,354.0 495.5,413.9 496.0,356.8 496.4,372.7 496.9,281.4 497.3,375.9 497.8,394.6 498.2,336.7 498.7,405.4 499.1,323.6 499.6,406.1 500.0,327.7 500.5,399.7 500.9,318.6 501.4,343.3 501.8,415.7 502.3,349.0 502.7,338.3 503.2,395.9 503.6,336.1 504.1,397.6 504.5,385.2 505.0,277.9 505.4,388.7 505.9,404.7 506.3,327.4 506.8,397.0 507.2,332.5 507.7,397.3 508.1,340.8 508.6,354.0 509.0,421.0 509.5,359.1 509.9,355.9 510.4,381.4 510.8,350.0 511.3,385.6 511.7,347.9 512.2,374.2 512.6,347.9 513.1,373.0 513.5,348.3 514.0,385.6 514.4,338.2 514.9,395.9 515.3,340.9 515.8,394.0 516.2,349.7 516.7,389.2 517.1,385.4 517.6,393.5 518.0,352.9 518.5,395.2 518.9,354.4 519.4,378.3 519.8,351.7 520.3,372.4 520.7,339.8 521.2,373.0 521.6,341.0 522.1,374.9 522.5,349.3 523.0,379.0 523.4,384.6 523.9,378.9 524.3,348.7 524.8,382.0 525.2,354.7 525.7,380.3 526.1,357.9 526.6,396.2 527.0,354.2 527.5,370.2 527.9,350.1 528.4,372.1 528.8,375.6 529.3,375.1 529.7,343.0 530.2,375.3 530.6,341.3 531.1,373.4 531.5,350.5 532.0,375.8 532.4,344.5 532.9,381.7 533.3,346.8 533.8,376.4 534.2,348.7 534.7,375.2 535.1,357.3 535.6,382.9 536.0,385.2 536.5,379.9 536.9,349.9 537.4,381.1 537.8,350.9 538.3,375.7 538.7,354.3 539.2,387.1 539.6,351.8 540.1,391.5 540.5,339.2 541.0,394.0 541.4,334.5 541.9,390.3 542.3,340.4 542.8,345.1 543.2,345.5 543.7,378.2 544.1,351.9 544.6,376.7 545.0,352.8 545.5,380.6 545.9,351.4 546.4,381.3 546.8,341.0 547.3,377.6 547.7,326.7 548.2,333.8 548.6,381.5 549.1,329.1 549.5,372.0 550.0,383.4 550.4,351.8 550.9,346.1 551.3,336.4 551.8,379.6 552.2,338.0 552.7,377.4 553.1,348.3 553.6,376.0 554.0,351.9 554.5,388.3 554.9,344.3 555.4,412.1 555.8,359.4 556.3,316.7 556.7,373.6 557.2,369.0 557.6,335.4 558.1,328.2 558.5,327.6 559.0,375.3 559.4,379.2 559.9,384.5 560.3,355.5 560.8,354.5 561.2,354.3 561.7,382.7 562.1,336.2 562.6,373.0 563.0,375.9 563.5,374.3 563.9,340.5 564.4,341.8 564.8,344.5 565.3,381.8 565.7,354.6 566.2,375.3 566.6,348.9 567.1,378.1 567.5,353.1 568.0,380.4 568.4,359.7 568.9,378.3 569.3,359.3 569.8,376.4 570.2,376.7 570.7,376.3 571.1,355.7 571.6,376.2 572.0,352.5 572.5,374.6 572.9,355.5 573.4,370.8 573.8,356.9 574.3,374.8 574.7,353.9 575.2,376.7 575.6,374.2 576.1,376.4 576.5,353.8 577.0,370.0 577.4,358.2 577.9,375.9 578.3,358.9 578.8,378.4 579.2,358.9 579.7,378.5 580.1,381.7 580.6,353.2 581.0,352.4 581.5,375.7 581.9,350.0 582.4,381.3 582.8,386.6 583.3,387.4 583.7,358.8 584.2,384.0 584.6,357.6 585.1,380.1 585.5,356.4 586.0,376.5 586.4,347.8 586.9,378.3 587.3,342.8 587.8,372.1 588.2,350.8 588.7,370.8 589.1,353.0 589.6,370.5 590.0,340.5 590.5,371.9 590.9,375.3 591.4,381.3 591.8,349.0 592.3,387.4 592.7,386.1 593.2,381.6 593.6,377.6 594.1,371.2 594.5,353.8 595.0,375.7 595.4,358.4 595.9,374.3 596.3,356.9 596.8,372.9 597.2,357.4 597.7,370.8 598.1,345.6 598.6,375.4 599.0,343.4 599.5,375.8 599.9,343.8 600.4,375.1 600.8,356.0 601.3,370.1 601.7,368.8 602.2,360.0 602.6,415.7 603.1,358.7 603.5,368.4 604.0,281.4 604.4,369.5 604.9,382.1 605.3,352.9 605.8,385.4 606.2,358.8 606.7,385.6 607.1,357.9 607.6,383.4 608.0,351.7 608.5,377.7 608.9,350.1 609.4,380.0 609.8,349.5 610.3,380.5 610.7,348.6 611.2,377.9 611.6,341.7 612.1,372.6 612.5,340.6 613.0,371.5 613.4,345.0 613.9,377.1 614.3,356.9 614.8,386.5 615.2,355.0 615.7,389.4 616.1,345.6 616.6,344.5 617.0,343.8 617.5,372.2 617.9,342.2 618.4,376.8 618.8,353.5 619.3,391.3 619.7,353.6 620.2,386.4 620.6,349.5 621.1,386.1 621.5,370.0 622.0,329.1 622.4,367.7 622.9,373.3 623.3,356.9 623.8,374.4 624.2,352.3 624.7,378.9 625.1,354.9 625.6,381.2 626.0,357.0 626.5,376.8 626.9,357.1 627.4,370.0 627.8,354.6 628.3,378.2 628.7,371.8 629.2,318.5 629.6,370.3 630.1,378.3 630.5,350.9 631.0,352.0 631.4,354.7 631.9,375.7 632.3,342.5 632.8,380.4 633.2,343.7 633.7,340.5 634.1,375.2 634.6,330.9 635.0,373.5 635.5,375.7 635.9,353.7 636.4,377.9 636.8,351.9 637.3,382.3 637.7,381.8 638.2,378.4 638.6,348.7 639.1,408.6 639.5,358.5 640.0,318.5 640.4,376.3 640.9,375.0 641.3,341.6 641.8,377.9 642.2,348.5 642.7,373.4 643.1,348.9 643.6,378.1 644.0,357.4 644.5,376.9 644.9,358.3 645.4,376.2 645.8,373.7 646.3,383.1 646.7,349.2 647.2,384.8 647.6,349.7 648.1,379.9 648.5,357.7 649.0,369.7 649.4,358.1 649.9,371.2 650.3,357.9 650.8,371.9 651.2,368.3 651.7,329.1 652.1,371.3 652.6,379.3 653.0,351.4 653.5,378.6 653.9,354.3 654.4,373.2 654.8,353.7 655.3,374.7 655.7,354.4 656.2,379.6 656.6,350.0 657.1,384.3 657.5,337.9 658.0,385.3 658.4,348.6 658.9,380.6 659.3,354.6 659.8,376.2 660.2,344.1 660.7,371.7 661.1,348.0 661.6,345.1 662.0,346.5 662.5,381.8 662.9,348.4 663.4,383.5 663.8,379.1 664.3,382.0 664.7,353.1 665.2,380.6 665.6,390.2 666.1,386.6 666.5,352.7 667.0,391.8 667.4,353.3 667.9,381.7 668.3,349.7 668.8,372.6 669.2,350.0 669.7,371.2 670.1,355.4 670.6,378.4 671.0,357.3 671.5,358.9 671.9,414.8 672.4,361.7 672.8,370.3 673.3,356.7 673.7,358.5 674.2,378.8 674.6,358.4 675.1,381.2 675.5,353.3 676.0,380.9 676.4,351.1 676.9,382.6 677.3,349.3 677.8,374.1 678.2,370.4 678.7,368.5 679.1,360.4 679.6,370.6 680.0,360.3 680.5,376.1 680.9,359.1 681.4,357.6 681.8,353.9 682.3,376.6 682.7,349.8 683.2,377.0 683.6,353.3 684.1,377.7 684.5,359.7 685.0,377.8 685.4,358.5 685.9,359.5 686.3,356.6 686.8,379.5 687.2,350.5 687.7,345.7 688.1,345.2 688.6,376.6 689.0,348.3 689.5,371.3 689.9,351.1 690.4,374.1 690.8,375.7 691.3,381.2 691.7,350.7 692.2,376.9 692.6,346.7 693.1,376.0 693.5,325.6 694.0,369.6 694.4,357.6 694.9,369.5 695.3,358.4 695.8,370.7 696.2,350.3 696.7,371.9 697.1,349.6 697.6,373.0 698.0,354.7 698.5,373.0 698.9,360.9 699.4,369.4 699.8,368.9 700.3,369.2 700.7,356.3 701.2,413.9 701.6,350.0 702.1,369.5 702.5,281.4 703.0,369.9 703.4,370.0 703.9,371.4 704.3,357.0 704.8,369.7 705.2,360.6 705.7,368.8 706.1,360.0 706.6,369.4 707.0,357.4 707.5,374.0 707.9,358.5 708.4,375.4 708.8,358.1 709.3,370.3 709.7,339.7 710.2,371.8 710.6,349.3 711.1,372.4 711.5,349.7 712.0,377.6 712.4,351.0 712.9,372.6 713.3,355.5" stroke="#F03D3F" stroke-width="2.15"/>
</g>
<path d="M59.5,541.1v-6.5M141.3,541.1v-4.0M223.2,541.1v-6.5M305.0,541.1v-4.0M386.9,541.1v-6.5M468.7,541.1v-4.0M550.5,541.1v-6.5M632.4,541.1v-4.0M714.2,541.1v-6.5M59.5,541.1h6.5M59.5,452.8h4.0M59.5,364.4h6.5M59.5,276.1h4.0M59.5,187.8h6.5M59.5,99.4h4.0M59.5,11.1h6.5" stroke="#111" stroke-width="1.8" fill="none"/>
<rect x="59.5" y="11.1" width="654.7" height="530.0" fill="none" stroke="#0a0a0a" stroke-width="2.5"/>
<clipPath id="cr"><rect x="926.9" y="18.2" width="656.2" height="530.5"/></clipPath>
<g clip-path="url(#cr)" fill="none" stroke-linejoin="round" stroke-linecap="round">
<polyline points="928.6,36.5 929.4,38.5 930.5,43.5 931.7,62.0 932.3,86.5 932.7,105.0 933.8,137.0 934.5,169.0 936.0,142.5 937.2,166.5 938.5,157.0 939.4,170.0 940.7,161.0 941.5,180.0 941.8,258.6 942.2,372.0 942.6,432.9 943.1,356.4 943.5,350.3 944.0,388.0 944.4,360.9 944.9,387.2 945.3,353.5 945.8,395.3 946.2,349.9 946.7,403.2 947.1,318.0 947.6,433.2 948.0,314.0 948.5,452.3 948.9,309.9 949.4,427.4 949.8,336.2 950.3,397.5 950.7,352.5 951.2,386.9 951.6,392.5 952.1,390.7 952.5,362.0 953.0,395.2 953.4,363.6 953.9,392.4 954.3,364.7 954.8,378.5 955.2,355.8 955.7,381.4 956.1,352.1 956.6,385.8 957.0,348.5 957.5,383.3 957.9,384.2 958.4,381.1 958.8,360.9 959.3,364.8 959.7,364.4 960.2,387.6 960.6,388.7 961.1,389.2 961.5,363.1 962.0,381.5 962.4,360.6 962.9,381.5 963.3,353.6 963.8,395.0 964.2,346.8 964.7,389.8 965.1,324.1 965.6,353.5 966.0,422.3 966.5,353.0 966.9,342.3 967.4,399.3 967.8,350.4 968.3,384.8 968.7,355.3 969.2,381.2 969.6,357.6 970.1,380.0 970.5,354.8 971.0,377.0 971.4,359.3 971.9,375.8 972.3,358.6 972.8,376.5 973.2,378.3 973.7,379.9 974.1,360.4 974.6,383.7 975.0,354.1 975.5,381.8 975.9,353.6 976.4,380.3 976.8,357.1 977.3,356.6 977.7,361.6 978.2,380.6 978.6,368.0 979.1,384.4 979.5,368.0 980.0,383.4 980.4,363.2 980.9,378.9 981.3,361.1 981.8,376.1 982.2,360.8 982.7,376.0 983.1,365.7 983.6,375.3 984.0,359.9 984.5,380.9 984.9,360.3 985.4,383.1 985.8,364.7 986.3,376.6 986.7,367.1 987.2,381.0 987.6,367.4 988.1,383.4 988.5,367.2 989.0,384.3 989.4,361.5 989.9,380.8 990.3,356.8 990.8,378.1 991.2,355.3 991.7,379.2 992.1,360.5 992.6,382.8 993.0,363.7 993.5,391.0 993.9,393.6 994.4,363.8 994.8,365.9 995.3,365.3 995.7,364.8 996.2,365.1 996.6,366.1 997.1,376.0 997.5,357.5 998.0,381.4 998.4,361.3 998.9,384.4 999.3,365.5 999.8,382.6 1000.2,369.1 1000.7,381.8 1001.1,365.4 1001.6,379.1 1002.0,359.9 1002.5,375.7 1002.9,376.2 1003.4,361.3 1003.8,363.7 1004.3,386.2 1004.7,366.9 1005.2,389.6 1005.6,367.4 1006.1,392.1 1006.5,366.7 1007.0,389.1 1007.4,358.4 1007.9,378.4 1008.3,353.2 1008.8,385.7 1009.2,355.3 1009.7,388.2 1010.1,364.7 1010.6,391.0 1011.0,356.7 1011.5,388.5 1011.9,346.3 1012.4,400.3 1012.8,338.3 1013.3,405.5 1013.7,349.9 1014.2,398.6 1014.6,352.7 1015.1,388.1 1015.5,356.7 1016.0,382.5 1016.4,358.6 1016.9,385.8 1017.3,359.0 1017.8,385.9 1018.2,382.5 1018.7,378.0 1019.1,358.7 1019.6,384.2 1020.0,361.8 1020.5,385.9 1020.9,364.9 1021.4,386.9 1021.8,367.1 1022.3,378.3 1022.7,364.7 1023.2,376.8 1023.6,358.3 1024.1,387.8 1024.5,355.2 1025.0,388.0 1025.4,358.9 1025.9,388.9 1026.3,361.7 1026.8,389.1 1027.2,382.7 1027.7,385.6 1028.1,358.1 1028.6,389.4 1029.0,388.0 1029.5,386.1 1029.9,353.8 1030.4,395.8 1030.8,394.6 1031.3,393.5 1031.7,336.5 1032.2,384.7 1032.6,347.0 1033.1,388.6 1033.5,353.9 1034.0,348.1 1034.4,348.6 1034.9,392.3 1035.3,351.0 1035.8,385.6 1036.2,349.2 1036.7,382.8 1037.1,359.3 1037.6,380.6 1038.0,358.9 1038.5,386.5 1038.9,356.3 1039.4,391.3 1039.8,351.0 1040.3,391.6 1040.7,352.9 1041.2,395.3 1041.6,359.6 1042.1,393.8 1042.5,362.7 1043.0,389.1 1043.4,353.9 1043.9,398.2 1044.3,386.9 1044.8,338.3 1045.2,411.7 1045.7,359.8 1046.1,345.0 1046.6,395.3 1047.0,357.7 1047.5,389.4 1047.9,348.4 1048.4,379.1 1048.8,347.6 1049.3,381.0 1049.7,355.3 1050.2,361.9 1050.6,361.3 1051.1,384.2 1051.5,355.3 1052.0,389.9 1052.4,361.6 1052.9,388.1 1053.3,366.5 1053.8,379.5 1054.2,366.0 1054.7,378.8 1055.1,377.8 1055.6,377.9 1056.0,356.8 1056.5,378.3 1056.9,349.0 1057.4,345.0 1057.8,347.4 1058.3,387.8 1058.7,384.3 1059.2,381.1 1059.6,360.2 1060.1,376.1 1060.5,367.4 1061.0,375.9 1061.4,362.4 1061.9,363.1 1062.3,359.1 1062.8,381.7 1063.2,362.1 1063.7,384.0 1064.1,360.5 1064.6,383.5 1065.0,354.2 1065.5,382.3 1065.9,355.6 1066.4,388.3 1066.8,366.8 1067.3,388.3 1067.7,366.6 1068.2,366.0 1068.6,361.0 1069.1,385.3 1069.5,355.6 1070.0,386.4 1070.4,353.1 1070.9,380.5 1071.3,359.4 1071.8,364.9 1072.2,378.9 1072.7,355.9 1073.1,355.2 1073.6,348.2 1074.0,346.5 1074.5,391.2 1074.9,396.0 1075.4,390.7 1075.8,363.3 1076.3,386.9 1076.7,380.7 1077.2,378.5 1077.6,365.2 1078.1,379.0 1078.5,377.6 1079.0,381.9 1079.4,349.5 1079.9,390.2 1080.3,356.8 1080.8,390.2 1081.2,367.0 1081.7,386.4 1082.1,367.4 1082.6,381.7 1083.0,361.6 1083.5,378.1 1083.9,353.8 1084.4,378.8 1084.8,352.1 1085.3,391.8 1085.7,353.3 1086.2,394.7 1086.6,360.8 1087.1,381.0 1087.5,360.6 1088.0,379.4 1088.4,353.0 1088.9,378.8 1089.3,354.3 1089.8,380.9 1090.2,351.2 1090.7,395.3 1091.1,363.8 1091.6,394.4 1092.0,365.5 1092.5,390.6 1092.9,381.6 1093.4,383.3 1093.8,357.1 1094.3,386.1 1094.7,360.4 1095.2,360.5 1095.6,385.3 1096.1,382.2 1096.5,382.1 1097.0,386.4 1097.4,365.7 1097.9,390.2 1098.3,365.1 1098.8,382.6 1099.2,362.0 1099.7,385.3 1100.1,358.1 1100.6,387.9 1101.0,359.5 1101.5,360.6 1101.9,359.2 1102.4,380.3 1102.8,356.8 1103.3,381.7 1103.7,355.7 1104.2,386.9 1104.6,358.4 1105.1,392.5 1105.5,364.0 1106.0,389.5 1106.4,359.9 1106.9,386.4 1107.3,390.6 1107.8,386.6 1108.2,354.3 1108.7,389.0 1109.1,360.2 1109.6,358.7 1110.0,354.9 1110.5,397.5 1110.9,397.9 1111.4,408.0 1111.8,324.1 1112.3,353.2 1112.7,412.5 1113.2,356.0 1113.6,348.6 1114.1,391.3 1114.5,354.3 1115.0,394.6 1115.4,347.5 1115.9,400.3 1116.3,348.2 1116.8,393.8 1117.2,349.7 1117.7,385.3 1118.1,356.3 1118.6,383.0 1119.0,350.3 1119.5,390.7 1119.9,355.5 1120.4,390.8 1120.8,359.6 1121.3,393.0 1121.7,360.4 1122.2,403.1 1122.6,360.8 1123.1,395.2 1123.5,359.6 1124.0,397.8 1124.4,356.3 1124.9,384.9 1125.3,360.0 1125.8,382.6 1126.2,351.2 1126.7,382.6 1127.1,354.8 1127.6,384.1 1128.0,353.7 1128.5,392.1 1128.9,356.0 1129.4,390.6 1129.8,365.5 1130.3,386.1 1130.7,363.7 1131.2,378.2 1131.6,362.7 1132.1,379.1 1132.5,360.4 1133.0,381.2 1133.4,361.7 1133.9,384.0 1134.3,366.9 1134.8,384.6 1135.2,367.6 1135.7,377.6 1136.1,361.9 1136.6,377.2 1137.0,356.5 1137.5,382.0 1137.9,353.6 1138.4,382.7 1138.8,356.4 1139.3,384.1 1139.7,360.8 1140.2,384.0 1140.6,354.0 1141.1,380.4 1141.5,355.2 1142.0,380.1 1142.4,366.0 1142.9,385.4 1143.3,366.9 1143.8,382.9 1144.2,362.1 1144.7,385.1 1145.1,348.8 1145.6,379.3 1146.0,349.3 1146.5,349.3 1146.9,360.1 1147.4,393.6 1147.8,364.3 1148.3,393.2 1148.7,353.9 1149.2,389.9 1149.6,356.2 1150.1,360.3 1150.5,402.8 1151.0,359.0 1151.4,350.1 1151.9,400.2 1152.3,352.6 1152.8,389.3 1153.2,390.9 1153.7,380.8 1154.1,353.0 1154.6,378.8 1155.0,355.7 1155.5,385.4 1155.9,362.4 1156.4,391.7 1156.8,365.0 1157.3,391.0 1157.7,360.4 1158.2,378.6 1158.6,354.5 1159.1,377.8 1159.5,356.7 1160.0,378.4 1160.4,359.4 1160.9,384.6 1161.3,363.7 1161.8,384.5 1162.2,365.2 1162.7,385.7 1163.1,358.7 1163.6,387.0 1164.0,349.5 1164.5,360.8 1164.9,403.7 1165.4,360.6 1165.8,350.2 1166.3,387.2 1166.7,360.6 1167.2,382.1 1167.6,365.3 1168.1,380.4 1168.5,366.6 1169.0,386.0 1169.4,361.8 1169.9,384.8 1170.3,360.9 1170.8,383.8 1171.2,362.1 1171.7,378.8 1172.1,362.9 1172.6,382.7 1173.0,364.8 1173.5,388.7 1173.9,362.7 1174.4,384.2 1174.8,352.7 1175.3,379.7 1175.7,350.2 1176.2,392.9 1176.6,361.9 1177.1,395.8 1177.5,400.8 1178.0,398.2 1178.4,350.4 1178.9,401.9 1179.3,349.6 1179.8,390.5 1180.2,387.1 1180.7,388.1 1181.1,356.2 1181.6,359.5 1182.0,360.3 1182.5,386.5 1182.9,356.9 1183.4,381.0 1183.8,353.0 1184.3,391.4 1184.7,363.7 1185.2,397.3 1185.6,364.4 1186.1,393.4 1186.5,358.6 1187.0,392.2 1187.4,351.7 1187.9,392.2 1188.3,352.0 1188.8,385.5 1189.2,363.3 1189.7,389.0 1190.1,386.2 1190.6,386.4 1191.0,349.6 1191.5,390.9 1191.9,361.0 1192.4,402.5 1192.8,394.2 1193.3,338.6 1193.7,343.7 1194.2,381.6 1194.6,358.3 1195.1,380.2 1195.5,362.2 1196.0,388.7 1196.4,361.6 1196.9,401.6 1197.3,350.5 1197.8,395.9 1198.2,353.9 1198.7,387.6 1199.1,389.8 1199.6,392.4 1200.0,358.4 1200.5,395.7 1200.9,355.5 1201.4,389.2 1201.8,351.3 1202.3,349.1 1202.7,355.8 1203.2,391.8 1203.6,365.5 1204.1,392.7 1204.5,397.2 1205.0,390.0 1205.4,351.0 1205.9,396.4 1206.3,345.3 1206.8,396.2 1207.2,331.9 1207.7,412.5 1208.1,340.2 1208.6,394.0 1209.0,351.2 1209.5,386.8 1209.9,357.7 1210.4,379.0 1210.8,358.6 1211.3,375.9 1211.7,364.9 1212.2,379.7 1212.6,368.1 1213.1,384.0 1213.5,368.1 1214.0,382.4 1214.4,367.3 1214.9,376.6 1215.3,364.7 1215.8,376.0 1216.2,376.4 1216.7,378.1 1217.1,364.3 1217.6,382.5 1218.0,366.9 1218.5,389.2 1218.9,362.6 1219.4,387.5 1219.8,360.4 1220.3,383.1 1220.7,362.2 1221.2,380.3 1221.6,377.0 1222.1,377.0 1222.5,357.9 1223.0,376.2 1223.4,356.2 1223.9,355.5 1224.3,355.2 1224.8,386.8 1225.2,366.3 1225.7,366.3 1226.1,366.7 1226.6,379.8 1227.0,355.3 1227.5,382.0 1227.9,347.8 1228.4,385.5 1228.8,354.0 1229.3,381.9 1229.7,364.6 1230.2,388.7 1230.6,361.9 1231.1,393.8 1231.5,362.2 1232.0,388.8 1232.4,360.1 1232.9,393.1 1233.3,357.1 1233.8,385.4 1234.2,359.7 1234.7,360.1 1235.1,360.6 1235.6,387.9 1236.0,365.0 1236.5,384.3 1236.9,365.9 1237.4,386.1 1237.8,364.5 1238.3,384.9 1238.7,362.4 1239.2,389.8 1239.6,358.0 1240.1,389.1 1240.5,360.5 1241.0,386.0 1241.4,360.0 1241.9,378.3 1242.3,360.0 1242.8,389.0 1243.2,351.2 1243.7,395.0 1244.1,393.5 1244.6,338.3 1245.0,385.8 1245.5,396.0 1245.9,356.6 1246.4,385.2 1246.8,380.3 1247.3,357.8 1247.7,357.5 1248.2,378.2 1248.6,358.9 1249.1,377.0 1249.5,359.1 1250.0,388.7 1250.4,358.4 1250.9,396.6 1251.3,357.4 1251.8,385.8 1252.2,361.3 1252.7,379.3 1253.1,364.1 1253.6,377.7 1254.0,378.6 1254.5,377.8 1254.9,360.8 1255.4,377.8 1255.8,360.8 1256.3,384.9 1256.7,365.0 1257.2,382.6 1257.6,358.0 1258.1,377.3 1258.5,355.9 1259.0,378.8 1259.4,364.9 1259.9,379.3 1260.3,365.2 1260.8,382.6 1261.2,363.0 1261.7,379.2 1262.1,361.4 1262.6,380.6 1263.0,364.5 1263.5,364.7 1263.9,365.2 1264.4,380.4 1264.8,364.4 1265.3,378.3 1265.7,356.0 1266.2,385.7 1266.6,359.4 1267.1,358.1 1267.5,355.8 1268.0,385.3 1268.4,361.4 1268.9,384.1 1269.3,355.5 1269.8,383.8 1270.2,355.3 1270.7,386.3 1271.1,350.5 1271.6,389.6 1272.0,353.0 1272.5,384.2 1272.9,360.6 1273.4,379.3 1273.8,356.7 1274.3,387.2 1274.7,341.1 1275.2,391.5 1275.6,345.2 1276.1,385.0 1276.5,358.6 1277.0,382.0 1277.4,362.0 1277.9,381.6 1278.3,355.5 1278.8,384.5 1279.2,390.1 1279.7,395.0 1280.1,345.2 1280.6,389.9 1281.0,343.8 1281.5,390.2 1281.9,350.8 1282.4,381.2 1282.8,362.5 1283.3,390.7 1283.7,364.4 1284.2,387.7 1284.6,360.8 1285.1,355.6 1285.5,353.7 1286.0,382.8 1286.4,353.4 1286.9,388.0 1287.3,362.3 1287.8,391.3 1288.2,361.6 1288.7,389.4 1289.1,360.1 1289.6,391.0 1290.0,361.0 1290.5,382.8 1290.9,360.0 1291.4,379.6 1291.8,361.6 1292.3,379.3 1292.7,361.3 1293.2,386.6 1293.6,393.0 1294.1,392.9 1294.5,357.3 1295.0,387.1 1295.4,382.8 1295.9,355.6 1296.3,354.4 1296.8,381.2 1297.2,358.0 1297.7,389.9 1298.1,349.4 1298.6,361.0 1299.0,404.6 1299.5,361.3 1299.9,351.6 1300.4,385.9 1300.8,358.2 1301.3,383.0 1301.7,349.0 1302.2,382.2 1302.6,341.5 1303.1,389.0 1303.5,344.8 1304.0,395.8 1304.4,353.9 1304.9,391.9 1305.3,356.2 1305.8,381.5 1306.2,360.7 1306.7,357.8 1307.1,379.6 1307.6,379.8 1308.0,363.1 1308.5,383.3 1308.9,365.2 1309.4,385.0 1309.8,359.5 1310.3,381.8 1310.7,354.6 1311.2,380.4 1311.6,350.7 1312.1,354.9 1312.5,353.9 1313.0,376.9 1313.4,363.4 1313.9,379.9 1314.3,366.3 1314.8,381.8 1315.2,365.7 1315.7,376.6 1316.1,367.3 1316.6,376.3 1317.0,362.0 1317.5,376.5 1317.9,363.9 1318.4,377.3 1318.8,363.4 1319.3,381.9 1319.7,366.4 1320.2,379.9 1320.6,361.4 1321.1,379.0 1321.5,359.9 1322.0,385.6 1322.4,362.6 1322.9,387.6 1323.3,368.5 1323.8,386.6 1324.2,368.4 1324.7,382.9 1325.1,364.5 1325.6,378.6 1326.0,358.6 1326.5,376.9 1326.9,358.2 1327.4,381.1 1327.8,360.9 1328.3,384.8 1328.7,363.3 1329.2,382.2 1329.6,366.5 1330.1,381.4 1330.5,378.2 1331.0,364.0 1331.4,384.4 1331.9,382.9 1332.3,361.2 1332.8,386.1 1333.2,361.4 1333.7,388.1 1334.1,366.6 1334.6,382.9 1335.0,367.0 1335.5,379.5 1335.9,367.2 1336.4,376.2 1336.8,354.5 1337.3,357.3 1337.7,352.8 1338.2,384.9 1338.6,356.6 1339.1,361.2 1339.5,377.0 1340.0,377.0 1340.4,361.8 1340.9,378.4 1341.3,358.4 1341.8,356.7 1342.2,356.1 1342.7,359.9 1343.1,359.5 1343.6,381.5 1344.0,365.6 1344.5,359.7 1344.9,359.0 1345.4,381.0 1345.8,357.4 1346.3,383.6 1346.7,358.2 1347.2,387.4 1347.6,359.7 1348.1,384.0 1348.5,355.5 1349.0,382.1 1349.4,357.4 1349.9,363.5 1350.3,398.4 1350.8,350.0 1351.2,392.2 1351.7,394.5 1352.1,359.6 1352.6,394.4 1353.0,358.7 1353.5,385.8 1353.9,356.9 1354.4,361.3 1354.8,365.1 1355.3,379.3 1355.7,357.3 1356.2,360.8 1356.6,357.8 1357.1,359.8 1357.5,356.3 1358.0,377.2 1358.4,359.7 1358.9,376.1 1359.3,375.7 1359.8,376.1 1360.2,367.5 1360.7,375.3 1361.1,367.9 1361.6,382.4 1362.0,380.7 1362.5,382.2 1362.9,362.8 1363.4,379.0 1363.8,363.2 1364.3,375.6 1364.7,360.1 1365.2,375.4 1365.6,358.7 1366.1,375.2 1366.5,361.8 1367.0,378.0 1367.4,361.6 1367.9,378.9 1368.3,363.8 1368.8,377.4 1369.2,368.1 1369.7,375.4 1370.1,368.8 1370.6,379.4 1371.0,366.1 1371.5,380.8 1371.9,363.4 1372.4,380.3 1372.8,380.3 1373.3,382.9 1373.7,362.1 1374.2,389.6 1374.6,359.2 1375.1,389.7 1375.5,351.3 1376.0,392.8 1376.4,345.3 1376.9,400.2 1377.3,360.5 1377.8,388.7 1378.2,351.0 1378.7,387.6 1379.1,382.7 1379.6,343.6 1380.0,381.4 1380.5,386.8 1380.9,358.5 1381.4,384.3 1381.8,355.8 1382.3,384.6 1382.7,357.5 1383.2,379.4 1383.6,363.1 1384.1,377.2 1384.5,362.3 1385.0,384.3 1385.4,362.2 1385.9,386.0 1386.3,362.6 1386.8,383.7 1387.2,361.0 1387.7,380.7 1388.1,359.0 1388.6,376.7 1389.0,359.8 1389.5,376.9 1389.9,356.8 1390.4,381.6 1390.8,359.2 1391.3,389.1 1391.7,364.0 1392.2,395.0 1392.6,351.3 1393.1,388.3 1393.5,382.9 1394.0,381.7 1394.4,387.0 1394.9,364.0 1395.3,365.5 1395.8,389.4 1396.2,366.1 1396.7,389.7 1397.1,361.0 1397.6,360.3 1398.0,383.7 1398.5,386.3 1398.9,357.0 1399.4,395.7 1399.8,361.3 1400.3,389.0 1400.7,353.3 1401.2,378.5 1401.6,356.1 1402.1,378.8 1402.5,354.5 1403.0,377.8 1403.4,359.9 1403.9,381.0 1404.3,365.4 1404.8,383.3 1405.2,353.9 1405.7,384.3 1406.1,349.3 1406.6,379.4 1407.0,349.7 1407.5,384.6 1407.9,355.5 1408.4,383.6 1408.8,357.6 1409.3,377.6 1409.7,355.0 1410.2,377.9 1410.6,355.6 1411.1,379.8 1411.5,363.0 1412.0,386.3 1412.4,367.5 1412.9,386.4 1413.3,358.0 1413.8,383.5 1414.2,353.0 1414.7,381.4 1415.1,354.2 1415.6,382.1 1416.0,356.3 1416.5,381.9 1416.9,362.5 1417.4,380.2 1417.8,363.3 1418.3,380.8 1418.7,360.6 1419.2,380.5 1419.6,361.3 1420.1,382.5 1420.5,359.8 1421.0,388.0 1421.4,362.0 1421.9,390.4 1422.3,364.8 1422.8,387.3 1423.2,360.5 1423.7,396.8 1424.1,354.1 1424.6,395.9 1425.0,356.4 1425.5,394.7 1425.9,363.8 1426.4,388.0 1426.8,364.6 1427.3,379.9 1427.7,364.6 1428.2,364.9 1428.6,364.6 1429.1,386.5 1429.5,362.2 1430.0,385.9 1430.4,361.0 1430.9,388.9 1431.3,349.4 1431.8,341.6 1432.2,389.5 1432.7,331.9 1433.1,413.4 1433.6,355.7 1434.0,342.6 1434.5,394.1 1434.9,350.8 1435.4,385.3 1435.8,357.4 1436.3,386.7 1436.7,391.9 1437.2,388.9 1437.6,363.9 1438.1,390.8 1438.5,392.7 1439.0,385.7 1439.4,356.0 1439.9,387.0 1440.3,355.5 1440.8,389.4 1441.2,354.0 1441.7,391.7 1442.1,360.3 1442.6,363.4 1443.0,364.1 1443.5,386.7 1443.9,364.6 1444.4,379.9 1444.8,362.3 1445.3,381.2 1445.7,348.9 1446.2,388.0 1446.6,350.1 1447.1,358.1 1447.5,364.1 1448.0,396.6 1448.4,363.3 1448.9,390.7 1449.3,363.2 1449.8,390.5 1450.2,364.0 1450.7,396.2 1451.1,359.7 1451.6,398.0 1452.0,393.2 1452.5,356.4 1452.9,356.2 1453.4,386.6 1453.8,364.8 1454.3,363.6 1454.7,359.2 1455.2,395.9 1455.6,349.6 1456.1,392.0 1456.5,351.6 1457.0,402.3 1457.4,405.0 1457.9,399.7 1458.3,359.8 1458.8,403.7 1459.2,394.5 1459.7,387.3 1460.1,390.7 1460.6,344.4 1461.0,346.4 1461.5,389.8 1461.9,344.7 1462.4,385.3 1462.8,361.3 1463.3,379.0 1463.7,358.9 1464.2,380.8 1464.6,354.6 1465.1,390.8 1465.5,352.8 1466.0,404.1 1466.4,356.2 1466.9,399.0 1467.3,358.7 1467.8,399.4 1468.2,356.3 1468.7,393.5 1469.1,340.1 1469.6,400.0 1470.0,396.6 1470.5,398.9 1470.9,347.2 1471.4,392.8 1471.8,388.4 1472.3,363.1 1472.7,364.8 1473.2,364.5 1473.6,364.2 1474.1,359.0 1474.5,359.4 1475.0,384.9 1475.4,358.5 1475.9,388.2 1476.3,355.8 1476.8,382.0 1477.2,360.0 1477.7,379.3 1478.1,362.0 1478.6,389.2 1479.0,392.3 1479.5,392.2 1479.9,363.2 1480.4,393.9 1480.8,356.9 1481.3,356.0 1481.7,358.1 1482.2,380.6 1482.6,353.5 1483.1,379.8 1483.5,359.7 1484.0,380.7 1484.4,364.2 1484.9,381.9 1485.3,362.9 1485.8,362.7 1486.2,362.3 1486.7,391.7 1487.1,359.0 1487.6,355.3 1488.0,354.3 1488.5,385.8 1488.9,358.3 1489.4,357.5 1489.8,360.4 1490.3,395.6 1490.7,359.8 1491.2,390.2 1491.6,362.1 1492.1,379.7 1492.5,362.2 1493.0,379.9 1493.4,359.7 1493.9,378.9 1494.3,353.7 1494.8,381.7 1495.2,379.8 1495.7,384.5 1496.1,355.7 1496.6,387.5 1497.0,357.6 1497.5,383.5 1497.9,362.4 1498.4,385.3 1498.8,364.2 1499.3,365.5 1499.7,365.4 1500.2,387.4 1500.6,363.7 1501.1,379.0 1501.5,361.0 1502.0,360.1 1502.4,362.8 1502.9,377.5 1503.3,364.8 1503.8,381.9 1504.2,359.3 1504.7,380.1 1505.1,359.0 1505.6,377.8 1506.0,361.2 1506.5,376.4 1506.9,365.7 1507.4,380.4 1507.8,368.0 1508.3,367.7 1508.7,367.7 1509.2,381.3 1509.6,358.8 1510.1,353.2 1510.5,351.9 1511.0,404.6 1511.4,386.6 1511.9,326.6 1512.3,363.5 1512.8,415.2 1513.2,344.1 1513.7,395.2 1514.1,393.0 1514.6,391.7 1515.0,384.9 1515.5,385.6 1515.9,358.7 1516.4,384.7 1516.8,364.7 1517.3,378.7 1517.7,361.5 1518.2,376.9 1518.6,363.7 1519.1,385.5 1519.5,363.7 1520.0,360.3 1520.4,361.8 1520.9,388.0 1521.3,362.1 1521.8,382.5 1522.2,383.3 1522.7,381.5 1523.1,366.7 1523.6,386.2 1524.0,383.9 1524.5,388.4 1524.9,362.8 1525.4,378.4 1525.8,362.9 1526.3,376.5 1526.7,363.9 1527.2,377.1 1527.6,362.7 1528.1,377.9 1528.5,356.9 1529.0,388.9 1529.4,356.2 1529.9,394.1 1530.3,358.2 1530.8,389.2 1531.2,363.0 1531.7,381.4 1532.1,380.4 1532.6,380.9 1533.0,357.9 1533.5,382.9 1533.9,357.1 1534.4,395.2 1534.8,393.4 1535.3,391.5 1535.7,350.7 1536.2,386.3 1536.6,384.2 1537.1,385.3 1537.5,355.6 1538.0,384.5 1538.4,357.2 1538.9,387.9 1539.3,346.3 1539.8,399.0 1540.2,384.9 1540.7,333.7 1541.1,408.1 1541.6,358.3 1542.0,343.9 1542.5,392.0 1542.9,348.5 1543.4,385.8 1543.8,347.7 1544.3,381.7 1544.7,353.0 1545.2,376.8 1545.6,355.2 1546.1,361.9 1546.5,359.8 1547.0,389.4 1547.4,356.5 1547.9,387.7 1548.3,354.7 1548.8,383.4 1549.2,362.9 1549.7,385.3 1550.1,366.7 1550.6,383.7 1551.0,366.1 1551.5,383.9 1551.9,359.7 1552.4,377.8 1552.8,347.1 1553.3,383.8 1553.7,351.3 1554.2,393.4 1554.6,346.2 1555.1,396.0 1555.5,360.8 1556.0,361.8 1556.4,358.2 1556.9,386.1 1557.3,355.9 1557.8,352.9 1558.2,351.4 1558.7,387.0 1559.1,384.5 1559.6,356.1 1560.0,357.1 1560.5,390.1 1560.9,364.3 1561.4,401.9 1561.8,399.5 1562.3,397.3 1562.7,349.2 1563.2,391.3 1563.6,353.9 1564.1,379.9 1564.5,352.0 1565.0,353.9 1565.4,356.8 1565.9,387.8 1566.3,357.1 1566.8,394.4 1567.2,359.9 1567.7,395.3 1568.1,365.3 1568.6,391.7 1569.0,364.4 1569.5,381.2 1569.9,364.7 1570.4,378.5 1570.8,363.2 1571.3,382.8 1571.7,357.7 1572.2,385.5 1572.6,357.5 1573.1,385.7 1573.5,359.0 1574.0,388.1 1574.4,358.7 1574.9,378.3 1575.3,356.6 1575.8,378.0 1576.2,359.7 1576.7,386.2 1577.1,356.0 1577.6,390.8 1578.0,358.6 1578.5,385.6 1578.9,389.5 1579.4,349.8 1579.8,394.9 1580.3,363.6 1580.7,358.6 1581.2,387.3 1581.6,361.0 1582.1,378.2 1582.5,366.1" stroke="#1B16DE" stroke-width="2.15"/>
<polyline points="928.3,295.8 928.8,380.2 929.2,349.1 929.7,351.9 930.1,442.6 930.6,359.4 931.0,345.8 931.5,401.1 931.9,340.0 932.4,396.5 932.8,343.8 933.3,403.3 933.7,347.3 934.2,392.8 934.6,349.5 935.1,348.1 935.5,355.7 936.0,398.4 936.4,359.8 936.9,396.0 937.3,357.0 937.8,380.2 938.2,356.1 938.7,384.0 939.1,364.8 939.6,390.2 940.0,365.4 940.5,387.4 940.9,363.2 941.4,390.8 941.8,389.0 942.3,383.9 942.7,353.9 943.2,388.5 943.6,349.8 944.1,396.6 944.5,343.6 945.0,406.2 945.4,251.6 945.9,400.6 946.3,328.7 946.8,414.9 947.2,335.6 947.7,442.6 948.1,326.8 948.6,419.7 949.0,274.6 949.5,416.3 949.9,323.0 950.4,414.0 950.8,325.6 951.3,355.9 951.7,437.3 952.2,356.6 952.6,345.4 953.1,403.7 953.5,248.1 954.0,400.6 954.4,348.8 954.9,389.3 955.3,357.7 955.8,388.6 956.2,357.1 956.7,390.4 957.1,391.8 957.6,390.0 958.0,366.7 958.5,385.4 958.9,361.8 959.4,377.7 959.8,353.9 960.3,377.9 960.7,356.0 961.2,376.5 961.6,355.9 962.1,379.6 962.5,364.6 963.0,379.3 963.4,367.7 963.9,377.2 964.3,365.7 964.8,376.9 965.2,358.6 965.7,375.9 966.1,379.0 966.6,379.2 967.0,364.3 967.5,378.8 967.9,363.4 968.4,377.5 968.8,360.7 969.3,381.2 969.7,361.5 970.2,385.3 970.6,361.0 971.1,381.8 971.5,367.3 972.0,381.1 972.4,380.2 972.9,380.1 973.3,364.3 973.8,385.4 974.2,367.4 974.7,385.8 975.1,367.2 975.6,382.0 976.0,363.5 976.5,384.1 976.9,357.6 977.4,386.5 977.8,355.6 978.3,395.3 978.7,353.7 979.2,392.2 979.6,362.8 980.1,364.3 980.5,357.4 981.0,387.3 981.4,353.3 981.9,394.6 982.3,352.4 982.8,354.6 983.2,358.2 983.7,380.3 984.1,380.0 984.6,382.4 985.0,353.9 985.5,391.7 985.9,361.1 986.4,391.5 986.8,398.8 987.3,398.6 987.7,361.9 988.2,392.6 988.6,359.9 989.1,382.7 989.5,380.5 990.0,386.3 990.4,386.5 990.9,383.5 991.3,362.7 991.8,362.7 992.2,355.5 992.7,378.1 993.1,380.6 993.6,295.8 994.0,380.5 994.5,382.8 994.9,358.4 995.4,384.4 995.8,366.0 996.3,388.2 996.7,382.8 997.2,383.5 997.6,365.7 998.1,383.2 998.5,388.1 999.0,387.9 999.4,354.4 999.9,388.8 1000.3,357.8 1000.8,379.5 1001.2,363.1 1001.7,378.0 1002.1,363.8 1002.6,364.2 1003.0,385.6 1003.5,383.2 1003.9,351.8 1004.4,383.5 1004.8,383.0 1005.3,380.1 1005.7,364.5 1006.2,377.9 1006.6,375.4 1007.1,259.4 1007.5,383.4 1008.0,385.2 1008.4,262.2 1008.9,390.1 1009.3,359.2 1009.8,383.1 1010.2,354.1 1010.7,383.5 1011.1,349.7 1011.6,382.3 1012.0,353.2 1012.5,378.9 1012.9,364.5 1013.4,375.8 1013.8,368.0 1014.3,380.7 1014.7,358.8 1015.2,352.1 1015.6,354.6 1016.1,381.8 1016.5,348.9 1017.0,367.0 1017.4,407.2 1017.9,364.5 1018.3,364.0 1018.8,387.0 1019.2,358.1 1019.7,388.8 1020.1,357.2 1020.6,382.3 1021.0,378.6 1021.5,380.1 1021.9,362.4 1022.4,386.1 1022.8,363.5 1023.3,387.7 1023.7,352.9 1024.2,384.9 1024.6,349.1 1025.1,380.4 1025.5,350.4 1026.0,411.7 1026.4,354.8 1026.9,387.9 1027.3,335.5 1027.8,389.2 1028.2,385.3 1028.7,386.0 1029.1,340.9 1029.6,393.8 1030.0,395.6 1030.5,393.2 1030.9,361.3 1031.4,389.0 1031.8,363.0 1032.3,382.8 1032.7,357.8 1033.2,382.6 1033.6,387.2 1034.1,387.9 1034.5,356.5 1035.0,388.7 1035.4,360.0 1035.9,383.9 1036.3,346.2 1036.8,384.7 1037.2,345.0 1037.7,383.0 1038.1,342.6 1038.6,386.9 1039.0,354.1 1039.5,388.2 1039.9,362.9 1040.4,386.7 1040.8,365.7 1041.3,365.3 1041.7,360.0 1042.2,386.2 1042.6,346.1 1043.1,342.8 1043.5,342.5 1044.0,383.5 1044.4,358.0 1044.9,390.0 1045.3,390.2 1045.8,388.4 1046.2,359.0 1046.7,385.1 1047.1,360.0 1047.6,380.2 1048.0,364.3 1048.5,380.3 1048.9,361.1 1049.4,358.9 1049.8,387.0 1050.3,395.6 1050.7,357.4 1051.2,396.9 1051.6,358.3 1052.1,388.9 1052.5,364.7 1053.0,379.2 1053.4,365.0 1053.9,377.5 1054.3,364.1 1054.8,377.6 1055.2,358.5 1055.7,388.1 1056.1,362.1 1056.6,386.1 1057.0,362.2 1057.5,388.7 1057.9,363.5 1058.4,381.4 1058.8,363.5 1059.3,380.0 1059.7,364.0 1060.2,387.9 1060.6,364.7 1061.1,359.6 1061.5,357.6 1062.0,391.0 1062.4,356.4 1062.9,390.3 1063.3,357.7 1063.8,391.1 1064.2,390.3 1064.7,361.5 1065.1,358.1 1065.6,388.6 1066.0,395.2 1066.5,353.6 1066.9,353.6 1067.4,400.7 1067.8,358.9 1068.3,382.0 1068.7,353.1 1069.2,380.5 1069.6,353.0 1070.1,379.9 1070.5,361.3 1071.0,395.7 1071.4,354.0 1071.9,402.5 1072.3,353.6 1072.8,397.9 1073.2,357.1 1073.7,360.2 1074.1,362.7 1074.6,382.2 1075.0,361.7 1075.5,386.2 1075.9,358.8 1076.4,395.8 1076.8,354.7 1077.3,397.4 1077.7,358.0 1078.2,390.3 1078.6,358.8 1079.1,362.2 1079.5,361.2 1080.0,400.9 1080.4,355.7 1080.9,399.1 1081.3,353.9 1081.8,383.9 1082.2,295.8 1082.7,385.4 1083.1,361.8 1083.6,403.9 1084.0,347.6 1084.5,405.4 1084.9,351.1 1085.4,409.0 1085.8,344.7 1086.3,404.5 1086.7,394.0 1087.2,390.7 1087.6,349.6 1088.1,388.0 1088.5,348.1 1089.0,354.4 1089.4,357.0 1089.9,383.0 1090.3,348.4 1090.8,381.6 1091.2,351.6 1091.7,388.0 1092.1,356.6 1092.6,405.0 1093.0,398.6 1093.5,399.2 1093.9,350.4 1094.4,380.4 1094.8,359.0 1095.3,378.9 1095.7,361.7 1096.2,380.8 1096.6,382.1 1097.1,259.4 1097.5,385.6 1098.0,387.5 1098.4,351.6 1098.9,432.9 1099.3,355.0 1099.8,383.6 1100.2,358.9 1100.7,378.6 1101.1,378.0 1101.6,349.0 1102.0,353.7 1102.5,385.3 1102.9,355.5 1103.4,385.5 1103.8,364.6 1104.3,384.5 1104.7,361.2 1105.2,381.3 1105.6,353.2 1106.1,352.9 1106.5,353.2 1107.0,385.9 1107.4,355.5 1107.9,382.7 1108.3,382.3 1108.8,379.1 1109.2,357.0 1109.7,377.5 1110.1,358.7 1110.6,383.1 1111.0,359.6 1111.5,385.8 1111.9,364.5 1112.4,387.9 1112.8,365.9 1113.3,390.8 1113.7,388.3 1114.2,386.8 1114.6,357.4 1115.1,379.7 1115.5,350.8 1116.0,380.6 1116.4,352.1 1116.9,389.8 1117.3,357.8 1117.8,397.6 1118.2,360.6 1118.7,403.1 1119.1,360.4 1119.6,392.1 1120.0,351.9 1120.5,384.3 1120.9,345.1 1121.4,383.9 1121.8,350.5 1122.3,387.4 1122.7,350.8 1123.2,389.7 1123.6,351.3 1124.1,391.9 1124.5,339.9 1125.0,389.1 1125.4,341.4 1125.9,387.2 1126.3,347.3 1126.8,395.3 1127.2,347.2 1127.7,400.4 1128.1,343.7 1128.6,397.4 1129.0,362.0 1129.5,385.3 1129.9,356.5 1130.4,382.7 1130.8,357.3 1131.3,394.1 1131.7,358.6 1132.2,363.8 1132.6,401.3 1133.1,364.2 1133.5,360.4 1134.0,413.4 1134.4,356.3 1134.9,396.9 1135.3,358.0 1135.8,389.6 1136.2,366.1 1136.7,380.8 1137.1,367.3 1137.6,376.5 1138.0,367.3 1138.5,377.8 1138.9,367.0 1139.4,386.1 1139.8,359.8 1140.3,392.5 1140.7,353.4 1141.2,385.9 1141.6,356.4 1142.1,380.7 1142.5,363.0 1143.0,383.8 1143.4,364.0 1143.9,387.9 1144.3,360.3 1144.8,383.5 1145.2,360.8 1145.7,383.9 1146.1,357.7 1146.6,378.9 1147.0,378.8 1147.5,379.7 1147.9,364.0 1148.4,381.1 1148.8,386.2 1149.3,365.3 1149.7,359.2 1150.2,358.1 1150.6,354.4 1151.1,388.6 1151.5,387.2 1152.0,381.3 1152.4,354.0 1152.9,380.0 1153.3,359.8 1153.8,377.8 1154.2,365.8 1154.7,378.0 1155.1,381.3 1155.6,388.4 1156.0,356.4 1156.5,389.3 1156.9,354.2 1157.4,383.3 1157.8,382.3 1158.3,382.4 1158.7,341.6 1159.2,381.9 1159.6,378.9 1160.1,336.3 1160.5,348.8 1161.0,386.1 1161.4,353.1 1161.9,396.4 1162.3,346.6 1162.8,396.0 1163.2,295.8 1163.7,394.5 1164.1,347.9 1164.6,380.4 1165.0,340.6 1165.5,382.1 1165.9,383.0 1166.4,388.3 1166.8,388.8 1167.3,387.7 1167.7,362.4 1168.2,382.9 1168.6,356.6 1169.1,383.3 1169.5,357.6 1170.0,381.7 1170.4,357.8 1170.9,380.1 1171.3,355.6 1171.8,389.6 1172.2,362.9 1172.7,393.0 1173.1,358.1 1173.6,395.7 1174.0,362.4 1174.5,386.4 1174.9,363.6 1175.4,380.2 1175.8,361.4 1176.3,383.0 1176.7,353.9 1177.2,382.3 1177.6,351.2 1178.1,355.1 1178.5,351.5 1179.0,392.8 1179.4,363.0 1179.9,388.8 1180.3,363.3 1180.8,381.8 1181.2,381.5 1181.7,347.5 1182.1,381.7 1182.6,381.6 1183.0,347.4 1183.5,339.9 1183.9,345.6 1184.4,397.0 1184.8,393.3 1185.3,364.7 1185.7,362.1 1186.2,397.5 1186.6,363.7 1187.1,385.9 1187.5,360.1 1188.0,381.5 1188.4,357.8 1188.9,382.9 1189.3,356.9 1189.8,385.8 1190.2,360.4 1190.7,361.9 1191.1,362.1 1191.6,360.8 1192.0,361.5 1192.5,387.7 1192.9,358.2 1193.4,386.1 1193.8,352.9 1194.3,387.2 1194.7,362.6 1195.2,379.3 1195.6,365.1 1196.1,365.1 1196.5,361.6 1197.0,393.1 1197.4,355.4 1197.9,398.1 1198.3,357.6 1198.8,393.3 1199.2,358.9 1199.7,388.6 1200.1,365.5 1200.6,388.8 1201.0,393.6 1201.5,387.0 1201.9,359.5 1202.4,383.3 1202.8,357.1 1203.3,384.6 1203.7,358.4 1204.2,386.4 1204.6,363.1 1205.1,382.8 1205.5,363.9 1206.0,379.2 1206.4,363.9 1206.9,380.8 1207.3,362.5 1207.8,383.2 1208.2,351.5 1208.7,386.6 1209.1,347.9 1209.6,388.6 1210.0,354.1 1210.5,355.4 1210.9,378.7 1211.4,295.8 1211.8,389.8 1212.3,384.8 1212.7,357.8 1213.2,353.9 1213.6,354.5 1214.1,398.2 1214.5,346.7 1215.0,392.6 1215.4,352.0 1215.9,388.2 1216.3,354.5 1216.8,388.5 1217.2,358.9 1217.7,392.3 1218.1,356.2 1218.6,388.0 1219.0,365.8 1219.5,387.2 1219.9,367.9 1220.4,382.0 1220.8,385.2 1221.3,390.0 1221.7,362.1 1222.2,391.3 1222.6,361.5 1223.1,390.3 1223.5,363.2 1224.0,386.5 1224.4,364.5 1224.9,384.7 1225.3,356.8 1225.8,384.2 1226.2,358.6 1226.7,382.0 1227.1,354.8 1227.6,380.5 1228.0,343.4 1228.5,379.1 1228.9,345.5 1229.4,390.3 1229.8,342.2 1230.3,397.4 1230.7,353.7 1231.2,396.8 1231.6,360.4 1232.1,389.3 1232.5,383.8 1233.0,382.3 1233.4,359.7 1233.9,384.9 1234.3,376.4 1234.8,295.8 1235.2,378.3 1235.7,362.3 1236.1,442.6 1236.6,358.8 1237.0,401.0 1237.5,396.4 1237.9,342.6 1238.4,397.1 1238.8,346.1 1239.3,400.0 1239.7,346.1 1240.2,393.7 1240.6,353.3 1241.1,388.4 1241.5,359.7 1242.0,381.1 1242.4,360.5 1242.9,361.2 1243.3,360.7 1243.8,388.2 1244.2,359.6 1244.7,390.8 1245.1,363.2 1245.6,381.6 1246.0,354.1 1246.5,377.6 1246.9,352.3 1247.4,378.6 1247.8,357.7 1248.3,385.7 1248.7,360.6 1249.2,394.5 1249.6,356.8 1250.1,389.3 1250.5,353.0 1251.0,391.2 1251.4,384.4 1251.9,251.6 1252.3,387.4 1252.8,404.3 1253.2,336.7 1253.7,442.6 1254.1,328.5 1254.6,418.0 1255.0,394.9 1255.5,274.6 1255.9,274.6 1256.4,414.5 1256.8,335.3 1257.3,347.2 1257.7,437.3 1258.2,349.2 1258.6,334.3 1259.1,407.0 1259.5,390.3 1260.0,248.1 1260.4,386.0 1260.9,392.8 1261.3,352.0 1261.8,387.6 1262.2,347.7 1262.7,395.1 1263.1,357.8 1263.6,391.9 1264.0,350.0 1264.5,391.7 1264.9,351.9 1265.4,383.5 1265.8,346.8 1266.3,347.9 1266.7,352.6 1267.2,379.8 1267.6,354.1 1268.1,386.1 1268.5,347.9 1269.0,391.3 1269.4,344.4 1269.9,394.9 1270.3,362.1 1270.8,383.7 1271.2,362.4 1271.7,379.8 1272.1,349.3 1272.6,378.6 1273.0,338.1 1273.5,346.6 1273.9,388.8 1274.4,384.2 1274.8,358.1 1275.3,381.9 1275.7,364.6 1276.2,380.3 1276.6,361.9 1277.1,359.4 1277.5,357.6 1278.0,358.9 1278.4,354.5 1278.9,394.0 1279.3,357.1 1279.8,387.0 1280.2,354.3 1280.7,380.9 1281.1,344.2 1281.6,382.4 1282.0,380.5 1282.5,390.8 1282.9,343.2 1283.4,401.4 1283.8,350.6 1284.3,396.5 1284.7,358.0 1285.2,393.2 1285.6,352.9 1286.1,383.9 1286.5,353.9 1287.0,382.8 1287.4,357.9 1287.9,382.8 1288.3,361.0 1288.8,382.7 1289.2,362.1 1289.7,401.7 1290.1,359.1 1290.6,405.7 1291.0,393.7 1291.5,391.4 1291.9,351.9 1292.4,382.5 1292.8,350.1 1293.3,384.2 1293.7,357.2 1294.2,392.0 1294.6,358.5 1295.1,387.5 1295.5,348.6 1296.0,388.7 1296.4,384.4 1296.9,382.4 1297.3,378.8 1297.8,380.7 1298.2,354.8 1298.7,380.0 1299.1,361.4 1299.6,385.1 1300.0,295.8 1300.5,389.6 1300.9,359.7 1301.4,394.8 1301.8,358.6 1302.3,384.3 1302.7,361.7 1303.2,379.8 1303.6,354.1 1304.1,386.7 1304.5,352.2 1305.0,391.6 1305.4,357.7 1305.9,359.5 1306.3,365.3 1306.8,386.1 1307.2,367.7 1307.7,382.1 1308.1,360.0 1308.6,376.2 1309.0,357.4 1309.5,376.0 1309.9,354.5 1310.4,384.5 1310.8,364.7 1311.3,389.1 1311.7,367.2 1312.2,386.7 1312.6,361.1 1313.1,378.3 1313.5,259.4 1314.0,382.2 1314.4,262.2 1314.9,386.6 1315.3,350.3 1315.8,432.9 1316.2,358.1 1316.7,381.2 1317.1,363.3 1317.6,382.0 1318.0,346.9 1318.5,340.8 1318.9,340.6 1319.4,391.5 1319.8,339.5 1320.3,401.3 1320.7,352.6 1321.2,397.5 1321.6,360.4 1322.1,396.9 1322.5,354.3 1323.0,361.3 1323.4,407.2 1323.9,367.3 1324.3,358.0 1324.8,382.2 1325.2,361.7 1325.7,364.8 1326.1,387.0 1326.6,365.2 1327.0,385.8 1327.5,382.3 1327.9,362.9 1328.4,381.8 1328.8,359.4 1329.3,379.8 1329.7,356.8 1330.2,387.7 1330.6,362.0 1331.1,387.5 1331.5,361.8 1332.0,365.3 1332.4,411.7 1332.9,367.4 1333.3,363.1 1333.8,382.2 1334.2,356.6 1334.7,382.2 1335.1,357.7 1335.6,392.2 1336.0,354.4 1336.5,397.8 1336.9,361.3 1337.4,391.5 1337.8,361.6 1338.3,390.8 1338.7,362.5 1339.2,394.6 1339.6,357.7 1340.1,392.0 1340.5,347.5 1341.0,395.8 1341.4,348.9 1341.9,349.4 1342.3,389.2 1342.8,357.1 1343.2,362.7 1343.7,387.6 1344.1,363.6 1344.6,383.7 1345.0,390.9 1345.5,388.3 1345.9,356.4 1346.4,385.0 1346.8,381.0 1347.3,381.2 1347.7,351.9 1348.2,383.6 1348.6,356.0 1349.1,383.0 1349.5,362.8 1350.0,389.6 1350.4,362.3 1350.9,396.8 1351.3,357.1 1351.8,397.1 1352.2,356.8 1352.7,390.8 1353.1,354.1 1353.6,386.3 1354.0,355.8 1354.5,379.9 1354.9,353.7 1355.4,383.1 1355.8,347.1 1356.3,398.0 1356.7,351.6 1357.2,357.8 1357.6,361.8 1358.1,362.3 1358.5,363.3 1359.0,388.1 1359.4,353.8 1359.9,380.3 1360.3,348.6 1360.8,379.2 1361.2,355.6 1361.7,385.8 1362.1,362.5 1362.6,387.3 1363.0,388.9 1363.5,388.5 1363.9,355.9 1364.4,380.1 1364.8,355.5 1365.3,379.8 1365.7,387.7 1366.2,388.9 1366.6,364.1 1367.1,386.3 1367.5,360.9 1368.0,380.1 1368.4,353.2 1368.9,381.1 1369.3,351.7 1369.8,393.6 1370.2,350.7 1370.7,394.8 1371.1,358.6 1371.6,399.3 1372.0,360.6 1372.5,393.1 1372.9,348.9 1373.4,380.8 1373.8,384.7 1374.3,382.0 1374.7,355.5 1375.2,386.9 1375.6,360.3 1376.1,362.1 1376.5,360.1 1377.0,396.7 1377.4,360.1 1377.9,405.5 1378.3,359.7 1378.8,389.8 1379.2,348.0 1379.7,392.3 1380.1,355.1 1380.6,360.0 1381.0,391.8 1381.5,390.7 1381.9,350.7 1382.4,390.1 1382.8,350.0 1383.3,390.9 1383.7,359.2 1384.2,394.9 1384.6,365.1 1385.1,391.4 1385.5,363.0 1386.0,384.6 1386.4,352.8 1386.9,392.2 1387.3,344.1 1387.8,394.1 1388.2,295.8 1388.7,393.0 1389.1,351.6 1389.6,380.0 1390.0,361.1 1390.5,380.0 1390.9,360.1 1391.4,358.3 1391.8,359.0 1392.3,390.5 1392.7,363.2 1393.2,387.2 1393.6,365.7 1394.1,376.7 1394.5,363.2 1395.0,355.3 1395.4,356.1 1395.9,378.1 1396.3,348.7 1396.8,381.7 1397.2,356.9 1397.7,388.0 1398.1,363.8 1398.6,384.4 1399.0,352.1 1399.5,356.5 1399.9,351.2 1400.4,383.6 1400.8,358.9 1401.3,387.4 1401.7,365.4 1402.2,381.4 1402.6,365.9 1403.1,379.5 1403.5,259.4 1404.0,378.9 1404.4,366.8 1404.9,432.9 1405.3,362.2 1405.8,380.6 1406.2,363.0 1406.7,388.2 1407.1,392.1 1407.6,392.4 1408.0,356.8 1408.5,383.7 1408.9,341.9 1409.4,389.4 1409.8,345.1 1410.3,385.9 1410.7,341.1 1411.2,347.7 1411.6,349.9 1412.1,379.6 1412.5,364.6 1413.0,387.7 1413.4,355.2 1413.9,402.1 1414.3,351.7 1414.8,396.5 1415.2,358.7 1415.7,382.3 1416.1,381.7 1416.6,380.2 1417.0,359.0 1417.5,381.3 1417.9,357.9 1418.4,388.2 1418.8,356.6 1419.3,392.3 1419.7,357.9 1420.2,384.9 1420.6,350.4 1421.1,398.1 1421.5,347.4 1422.0,399.4 1422.4,345.8 1422.9,351.2 1423.3,378.5 1423.8,385.3 1424.2,392.0 1424.7,394.8 1425.1,350.7 1425.6,398.2 1426.0,351.4 1426.5,407.4 1426.9,402.7 1427.4,397.9 1427.8,345.6 1428.3,339.1 1428.7,348.0 1429.2,345.9 1429.6,354.6 1430.1,382.1 1430.5,362.9 1431.0,396.9 1431.4,362.3 1431.9,393.2 1432.3,355.3 1432.8,381.7 1433.2,350.2 1433.7,381.2 1434.1,357.4 1434.6,362.3 1435.0,361.7 1435.5,387.1 1435.9,345.3 1436.4,392.8 1436.8,340.1 1437.3,390.5 1437.7,349.4 1438.2,382.3 1438.6,380.4 1439.1,382.7 1439.5,363.2 1440.0,366.3 1440.4,413.4 1440.9,364.8 1441.3,358.4 1441.8,387.8 1442.2,353.6 1442.7,385.4 1443.1,358.5 1443.6,379.9 1444.0,364.7 1444.5,380.6 1444.9,359.5 1445.4,391.4 1445.8,361.8 1446.3,393.0 1446.7,392.2 1447.2,383.2 1447.6,380.1 1448.1,379.1 1448.5,379.0 1449.0,384.9 1449.4,359.8 1449.9,383.6 1450.3,361.9 1450.8,385.2 1451.2,366.5 1451.7,379.6 1452.1,367.8 1452.6,366.8 1453.0,365.0 1453.5,376.2 1453.9,363.7 1454.4,379.6 1454.8,364.0 1455.3,383.2 1455.7,362.2 1456.2,381.8 1456.6,364.8 1457.1,381.3 1457.5,363.6 1458.0,384.1 1458.4,364.3 1458.9,386.2 1459.3,366.3 1459.8,382.4 1460.2,365.6 1460.7,380.9 1461.1,359.4 1461.6,382.8 1462.0,358.7 1462.5,383.3 1462.9,361.7 1463.4,377.5 1463.8,366.1 1464.3,375.3 1464.7,367.1 1465.2,367.8 1465.6,376.1 1466.1,377.1 1466.5,362.9 1467.0,381.2 1467.4,357.6 1467.9,385.0 1468.3,360.8 1468.8,381.2 1469.2,295.8 1469.7,377.2 1470.1,362.0 1470.6,381.5 1471.0,358.7 1471.5,382.7 1471.9,363.7 1472.4,382.5 1472.8,362.7 1473.3,378.3 1473.7,359.1 1474.2,379.5 1474.6,382.6 1475.1,381.4 1475.5,363.2 1476.0,385.8 1476.4,356.7 1476.9,380.6 1477.3,353.2 1477.8,383.4 1478.2,355.0 1478.7,385.8 1479.1,357.9 1479.6,384.3 1480.0,367.1 1480.5,377.6 1480.9,366.4 1481.4,379.8 1481.8,366.0 1482.3,385.7 1482.7,365.4 1483.2,384.2 1483.6,360.4 1484.1,386.3 1484.5,382.6 1485.0,382.6 1485.4,364.3 1485.9,377.9 1486.3,364.2 1486.8,380.0 1487.2,366.8 1487.7,381.9 1488.1,367.0 1488.6,383.7 1489.0,366.4 1489.5,384.8 1489.9,365.3 1490.4,379.8 1490.8,362.4 1491.3,375.7 1491.7,376.2 1492.2,376.1 1492.6,368.3 1493.1,387.0 1493.5,367.1 1494.0,391.6 1494.4,364.4 1494.9,388.5 1495.3,360.7 1495.8,387.5 1496.2,361.7 1496.7,364.8 1497.1,361.2 1497.6,358.4 1498.0,357.0 1498.5,385.1 1498.9,356.0 1499.4,378.1 1499.8,363.3 1500.3,389.4 1500.7,363.1 1501.2,399.3 1501.6,352.4 1502.1,401.2 1502.5,346.9 1503.0,394.6 1503.4,354.1 1503.9,388.2 1504.3,383.9 1504.8,379.8 1505.2,364.6 1505.7,387.0 1506.1,363.0 1506.6,390.9 1507.0,353.8 1507.5,380.6 1507.9,347.1 1508.4,380.4 1508.8,352.6 1509.3,380.1 1509.7,352.8 1510.2,383.2 1510.6,347.4 1511.1,394.0 1511.5,346.8 1512.0,402.0 1512.4,346.1 1512.9,391.8 1513.3,361.7 1513.8,382.2 1514.2,351.8 1514.7,383.1 1515.1,350.3 1515.6,347.2 1516.0,386.8 1516.5,387.7 1516.9,360.0 1517.4,392.0 1517.8,295.8 1518.3,390.8 1518.7,354.0 1519.2,388.3 1519.6,391.2 1520.1,394.0 1520.5,361.3 1521.0,394.0 1521.4,361.5 1521.9,382.1 1522.3,351.6 1522.8,380.6 1523.2,348.4 1523.7,382.6 1524.1,348.3 1524.6,384.7 1525.0,347.2 1525.5,385.7 1525.9,360.4 1526.4,362.9 1526.8,360.7 1527.3,386.7 1527.7,356.1 1528.2,383.1 1528.6,362.9 1529.1,388.4 1529.5,351.0 1530.0,393.1 1530.4,347.7 1530.9,392.3 1531.3,355.1 1531.8,385.9 1532.2,361.5 1532.7,381.4 1533.1,363.1 1533.6,389.3 1534.0,357.4 1534.5,387.1 1534.9,349.9 1535.4,383.5 1535.8,352.4 1536.3,383.6 1536.7,352.7 1537.2,387.5 1537.6,358.8 1538.1,389.2 1538.5,358.7 1539.0,386.0 1539.4,387.1 1539.9,382.4 1540.3,365.1 1540.8,381.8 1541.2,366.4 1541.7,383.3 1542.1,381.8 1542.6,385.2 1543.0,354.7 1543.5,383.2 1543.9,348.9 1544.4,379.5 1544.8,377.5 1545.3,378.5 1545.7,377.6 1546.2,378.3 1546.6,379.1 1547.1,381.3 1547.5,386.3 1548.0,386.3 1548.4,364.7 1548.9,392.9 1549.3,356.2 1549.8,348.2 1550.2,345.9 1550.7,388.7 1551.1,387.3 1551.6,389.0 1552.0,340.0 1552.5,386.3 1552.9,354.5 1553.4,380.9 1553.8,344.0 1554.3,387.0 1554.7,385.8 1555.2,389.5 1555.6,348.6 1556.1,389.8 1556.5,355.9 1557.0,385.1 1557.4,353.1 1557.9,378.4 1558.3,357.8 1558.8,390.0 1559.2,401.6 1559.7,397.8 1560.1,365.5 1560.6,395.9 1561.0,365.1 1561.5,383.2 1561.9,361.8 1562.4,383.0 1562.8,357.0 1563.3,384.4 1563.7,354.9 1564.2,382.2 1564.6,358.0 1565.1,380.2 1565.5,364.8 1566.0,384.8 1566.4,363.7 1566.9,384.8 1567.3,359.8 1567.8,389.7 1568.2,354.0 1568.7,393.0 1569.1,357.8 1569.6,389.9 1570.0,365.6 1570.5,364.1 1570.9,364.8 1571.4,368.7 1571.8,412.5 1572.3,367.9 1572.7,379.0 1573.2,383.3 1573.6,350.1 1574.1,392.1 1574.5,349.9 1575.0,388.6 1575.4,355.7 1575.9,389.3 1576.3,354.4 1576.8,384.2 1577.2,352.7 1577.7,354.7 1578.1,358.2 1578.6,384.5 1579.0,361.8 1579.5,384.6 1579.9,365.7 1580.4,378.5 1580.8,356.1 1581.3,379.9 1581.7,355.4 1582.2,356.6" stroke="#F03D3F" stroke-width="2.15"/>
</g>
<path d="M926.9,548.7v-6.5M1008.9,548.7v-4.0M1091.0,548.7v-6.5M1173.0,548.7v-4.0M1255.0,548.7v-6.5M1337.0,548.7v-4.0M1419.0,548.7v-6.5M1501.1,548.7v-4.0M1583.1,548.7v-6.5M926.9,548.7h6.5M926.9,460.3h4.0M926.9,371.9h6.5M926.9,283.4h4.0M926.9,195.0h6.5M926.9,106.6h4.0M926.9,18.2h6.5" stroke="#111" stroke-width="1.8" fill="none"/>
<rect x="926.9" y="18.2" width="656.2" height="530.5" fill="none" stroke="#0a0a0a" stroke-width="2.5"/>
<g font-family="'Liberation Sans', Arial, sans-serif" font-size="23" fill="#1e1e1e">
<text x="59.5" y="566.0" text-anchor="middle">0</text>
<text x="223.2" y="566.0" text-anchor="middle">5</text>
<text x="386.9" y="566.0" text-anchor="middle">10</text>
<text x="550.5" y="566.0" text-anchor="middle">15</text>
<text x="714.2" y="566.0" text-anchor="middle">20</text>
<text x="51.2" y="548.5" text-anchor="end">-1</text>
<text x="51.2" y="371.8" text-anchor="end">0</text>
<text x="51.2" y="195.2" text-anchor="end">1</text>
<text x="51.2" y="18.5" text-anchor="end">2</text>
<text x="926.9" y="573.6" text-anchor="middle">0</text>
<text x="1091.0" y="573.6" text-anchor="middle">5</text>
<text x="1255.0" y="573.6" text-anchor="middle">10</text>
<text x="1419.0" y="573.6" text-anchor="middle">15</text>
<text x="1583.1" y="573.6" text-anchor="middle">20</text>
<text x="918.6" y="556.1" text-anchor="end">-1</text>
<text x="918.6" y="379.3" text-anchor="end">0</text>
<text x="918.6" y="202.4" text-anchor="end">1</text>
<text x="918.6" y="25.6" text-anchor="end">2</text>
</g>
<g font-family="'Liberation Serif', 'Times New Roman', serif" fill="#1a1a1a" stroke="#1a1a1a" stroke-width="0.3">
<text transform="translate(21.9,275) rotate(-90) scale(1,0.92)" font-size="24.6" text-anchor="middle">Amplitude</text>
<text transform="translate(889,282.6) rotate(-90)" font-size="29" text-anchor="middle">Amplitude</text>
</g>
<rect x="544.4" y="37.8" width="144.3" height="59.5" fill="#fff" stroke="#2a2a2a" stroke-width="1.8"/>
<line x1="548.0" y1="53.5" x2="599.4" y2="53.5" stroke="#2A26D2" stroke-width="2"/>
<line x1="548.0" y1="82.0" x2="599.4" y2="82.0" stroke="#EE6A73" stroke-width="2"/>
<g font-family="'Liberation Serif', 'Times New Roman', serif" font-size="22.6" fill="#1a1a1a" stroke="#1a1a1a" stroke-width="0.3">
<text x="604.0" y="61.0">Original</text>
<text x="604.0" y="89.4">Generate</text>
</g>
<rect x="1409.6" y="54.4" width="144.3" height="59.5" fill="#fff" stroke="#2a2a2a" stroke-width="1.8"/>
<line x1="1413.2" y1="70.9" x2="1464.6" y2="70.9" stroke="#2A26D2" stroke-width="2"/>
<line x1="1413.2" y1="98.6" x2="1464.6" y2="98.6" stroke="#EE6A73" stroke-width="2"/>
<g font-family="'Liberation Serif', 'Times New Roman', serif" font-size="22.6" fill="#1a1a1a" stroke="#1a1a1a" stroke-width="0.3">
<text x="1469.2" y="77.6">Original</text>
<text x="1469.2" y="106.0">Generate</text>
</g>
<g fill="#000" font-size="40">
<text transform="translate(268,639.6) scale(0.85,1)" font-family="'Noto Serif CJK SC', 'Liberation Serif', serif" font-weight="400">（ａ）</text>
<text transform="translate(374.2,639.6) scale(0.855,1)" font-family="'Liberation Serif', 'Times New Roman', serif" stroke="#000" stroke-width="0.35">Leak 1</text>
<text transform="translate(1168.6,644.5) scale(0.7,1.04)" font-family="'Noto Serif CJK SC', 'Liberation Serif', serif" font-weight="400" text-anchor="middle">(</text>
<text transform="translate(1186.3,646.5) scale(0.74,1)" font-family="'Noto Serif CJK SC', 'Liberation Serif', serif" font-weight="400" font-size="36" text-anchor="middle">b</text>
<text transform="translate(1202.2,644.5) scale(0.7,1.04)" font-family="'Noto Serif CJK SC', 'Liberation Serif', serif" font-weight="400" text-anchor="middle">)</text>
<text transform="translate(1230.6,646.9) scale(0.87,1)" font-family="'Liberation Serif', 'Times New Roman', serif" stroke="#000" stroke-width="0.35">Leak 2</text>
</g>
</svg>
</body></html>
